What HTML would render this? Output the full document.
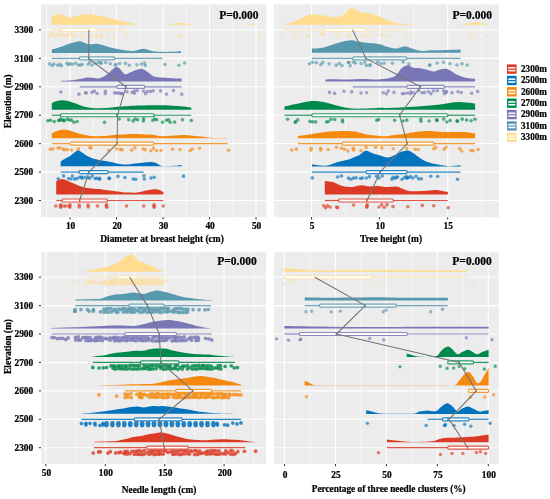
<!DOCTYPE html>
<html><head><meta charset="utf-8"><style>
html,body{margin:0;padding:0;background:#fff;}
body{width:550px;height:499px;overflow:hidden;font-family:"Liberation Serif",serif;}
svg{display:block;will-change:transform;filter:blur(0.3px);}
text{stroke:#000;stroke-width:0.22px;}
</style></head><body>
<svg width="550" height="499" viewBox="0 0 550 499">
<rect width="550" height="499" fill="#FFFFFF"/>
<rect x="41.00" y="4.40" width="225.30" height="212.80" fill="#ECECEC"/>
<line x1="46.75" y1="4.40" x2="46.75" y2="217.20" stroke="#FFFFFF" stroke-width="0.55"/>
<line x1="93.25" y1="4.40" x2="93.25" y2="217.20" stroke="#FFFFFF" stroke-width="0.55"/>
<line x1="139.75" y1="4.40" x2="139.75" y2="217.20" stroke="#FFFFFF" stroke-width="0.55"/>
<line x1="186.25" y1="4.40" x2="186.25" y2="217.20" stroke="#FFFFFF" stroke-width="0.55"/>
<line x1="232.75" y1="4.40" x2="232.75" y2="217.20" stroke="#FFFFFF" stroke-width="0.55"/>
<line x1="70.00" y1="4.40" x2="70.00" y2="217.20" stroke="#FFFFFF" stroke-width="1.1"/>
<line x1="116.50" y1="4.40" x2="116.50" y2="217.20" stroke="#FFFFFF" stroke-width="1.1"/>
<line x1="163.00" y1="4.40" x2="163.00" y2="217.20" stroke="#FFFFFF" stroke-width="1.1"/>
<line x1="209.50" y1="4.40" x2="209.50" y2="217.20" stroke="#FFFFFF" stroke-width="1.1"/>
<line x1="256.00" y1="4.40" x2="256.00" y2="217.20" stroke="#FFFFFF" stroke-width="1.1"/>
<line x1="41.00" y1="200.50" x2="266.30" y2="200.50" stroke="#FFFFFF" stroke-width="1.1"/>
<line x1="41.00" y1="172.08" x2="266.30" y2="172.08" stroke="#FFFFFF" stroke-width="1.1"/>
<line x1="41.00" y1="143.66" x2="266.30" y2="143.66" stroke="#FFFFFF" stroke-width="1.1"/>
<line x1="41.00" y1="115.24" x2="266.30" y2="115.24" stroke="#FFFFFF" stroke-width="1.1"/>
<line x1="41.00" y1="86.82" x2="266.30" y2="86.82" stroke="#FFFFFF" stroke-width="1.1"/>
<line x1="41.00" y1="58.40" x2="266.30" y2="58.40" stroke="#FFFFFF" stroke-width="1.1"/>
<line x1="41.00" y1="29.98" x2="266.30" y2="29.98" stroke="#FFFFFF" stroke-width="1.1"/>
<path d="M56.20,194.60 L56.20,181.20 C56.67,180.97 57.90,180.17 59.00,179.80 C60.10,179.43 61.47,178.88 62.80,179.00 C64.13,179.12 65.27,179.80 67.00,180.50 C68.73,181.20 70.45,182.07 73.20,183.20 C75.95,184.33 80.37,186.40 83.50,187.30 C86.63,188.20 88.88,188.25 92.00,188.60 C95.12,188.95 98.87,189.03 102.20,189.40 C105.53,189.77 108.55,190.33 112.00,190.80 C115.45,191.27 119.90,191.90 122.90,192.20 C125.90,192.50 127.58,192.57 130.00,192.60 C132.42,192.63 134.90,192.70 137.40,192.40 C139.90,192.10 142.57,191.30 145.00,190.80 C147.43,190.30 150.17,189.65 152.00,189.40 C153.83,189.15 154.67,189.17 156.00,189.30 C157.33,189.43 158.78,189.75 160.00,190.20 C161.22,190.65 162.75,191.70 163.30,192.00 L163.30,194.60 Z" fill="#DC3A24"/>
<path d="M60.70,166.30 L60.70,161.40 C61.42,160.97 63.27,159.83 65.00,158.80 C66.73,157.77 69.43,156.33 71.10,155.20 C72.77,154.07 73.80,152.83 75.00,152.00 C76.20,151.17 77.13,150.12 78.30,150.20 C79.47,150.28 80.43,151.50 82.00,152.50 C83.57,153.50 85.37,155.07 87.70,156.20 C90.03,157.33 92.55,158.40 96.00,159.30 C99.45,160.20 105.07,160.95 108.40,161.60 C111.73,162.25 113.23,162.70 116.00,163.20 C118.77,163.70 121.83,164.55 125.00,164.60 C128.17,164.65 131.83,163.87 135.00,163.50 C138.17,163.13 141.42,162.65 144.00,162.40 C146.58,162.15 148.58,161.93 150.50,162.00 C152.42,162.07 154.08,162.33 155.50,162.80 C156.92,163.27 157.92,164.27 159.00,164.80 C160.08,165.33 160.50,165.78 162.00,166.00 C163.50,166.22 166.00,166.13 168.00,166.10 C170.00,166.07 172.33,165.92 174.00,165.80 C175.67,165.68 176.73,165.52 178.00,165.40 C179.27,165.28 181.00,165.15 181.60,165.10 L181.60,166.30 Z" fill="#0473BD"/>
<path d="M51.80,138.30 L51.80,133.40 C52.67,133.00 55.00,131.63 57.00,131.00 C59.00,130.37 61.30,129.55 63.80,129.60 C66.30,129.65 69.05,130.53 72.00,131.30 C74.95,132.07 77.85,133.38 81.50,134.20 C85.15,135.02 89.48,135.95 93.90,136.20 C98.32,136.45 103.65,135.97 108.00,135.70 C112.35,135.43 115.50,134.88 120.00,134.60 C124.50,134.32 130.33,134.00 135.00,134.00 C139.67,134.00 144.83,134.43 148.00,134.60 C151.17,134.77 151.67,134.73 154.00,135.00 C156.33,135.27 159.00,136.07 162.00,136.20 C165.00,136.33 168.17,136.00 172.00,135.80 C175.83,135.60 181.17,134.97 185.00,135.00 C188.83,135.03 192.17,135.73 195.00,136.00 C197.83,136.27 199.83,136.37 202.00,136.60 C204.17,136.83 206.00,137.18 208.00,137.40 C210.00,137.62 212.00,137.79 214.00,137.90 C216.00,138.01 217.73,138.02 220.00,138.05 C222.27,138.08 226.33,138.09 227.60,138.10 L227.60,138.30 Z" fill="#F5890F"/>
<path d="M51.80,109.80 L51.80,103.30 C52.33,103.02 53.33,102.12 55.00,101.60 C56.67,101.08 59.63,100.32 61.80,100.20 C63.97,100.08 65.77,100.38 68.00,100.90 C70.23,101.42 72.27,102.28 75.20,103.30 C78.13,104.32 81.80,106.17 85.60,107.00 C89.40,107.83 93.93,108.17 98.00,108.30 C102.07,108.43 106.33,108.08 110.00,107.80 C113.67,107.52 115.00,106.98 120.00,106.60 C125.00,106.22 133.33,105.73 140.00,105.50 C146.67,105.27 155.00,105.20 160.00,105.20 C165.00,105.20 166.67,105.32 170.00,105.50 C173.33,105.68 177.33,106.08 180.00,106.30 C182.67,106.52 184.12,106.58 186.00,106.80 C187.88,107.02 190.42,107.47 191.30,107.60 L191.30,109.80 Z" fill="#00894C"/>
<path d="M60.70,81.60 L60.70,81.00 C61.92,80.93 65.23,80.85 68.00,80.60 C70.77,80.35 74.02,80.02 77.30,79.50 C80.58,78.98 85.08,77.78 87.70,77.50 C90.32,77.22 91.28,77.63 93.00,77.80 C94.72,77.97 96.33,78.63 98.00,78.50 C99.67,78.37 101.27,77.87 103.00,77.00 C104.73,76.13 106.82,74.55 108.40,73.30 C109.98,72.05 111.12,70.53 112.50,69.50 C113.88,68.47 115.37,67.10 116.70,67.10 C118.03,67.10 119.12,68.30 120.50,69.50 C121.88,70.70 123.42,73.78 125.00,74.30 C126.58,74.82 128.17,73.32 130.00,72.60 C131.83,71.88 134.07,70.65 136.00,70.00 C137.93,69.35 139.77,68.45 141.60,68.70 C143.43,68.95 144.93,70.22 147.00,71.50 C149.07,72.78 151.45,75.40 154.00,76.40 C156.55,77.40 159.72,77.25 162.30,77.50 C164.88,77.75 167.08,77.73 169.50,77.90 C171.92,78.07 174.78,78.38 176.80,78.50 C178.82,78.62 180.80,78.58 181.60,78.60 L181.60,81.60 Z" fill="#7876B4"/>
<path d="M51.80,53.00 L51.80,49.50 C52.50,49.33 54.30,49.00 56.00,48.50 C57.70,48.00 59.67,47.33 62.00,46.50 C64.33,45.67 67.10,44.38 70.00,43.50 C72.90,42.62 77.07,41.37 79.40,41.20 C81.73,41.03 82.45,41.98 84.00,42.50 C85.55,43.02 87.20,44.05 88.70,44.30 C90.20,44.55 91.62,44.10 93.00,44.00 C94.38,43.90 95.17,43.45 97.00,43.70 C98.83,43.95 101.75,44.88 104.00,45.50 C106.25,46.12 107.83,46.73 110.50,47.40 C113.17,48.07 116.58,48.90 120.00,49.50 C123.42,50.10 128.17,50.88 131.00,51.00 C133.83,51.12 134.90,50.57 137.00,50.20 C139.10,49.83 141.43,48.77 143.60,48.80 C145.77,48.83 147.93,49.93 150.00,50.40 C152.07,50.87 153.50,51.35 156.00,51.60 C158.50,51.85 162.33,51.87 165.00,51.90 C167.67,51.93 170.00,51.87 172.00,51.80 C174.00,51.73 175.50,51.62 177.00,51.50 C178.50,51.38 180.33,51.17 181.00,51.10 L181.00,53.00 Z" fill="#5698AE"/>
<path d="M51.40,24.70 L51.40,18.20 C52.00,17.67 53.63,15.72 55.00,15.00 C56.37,14.28 58.10,13.80 59.60,13.90 C61.10,14.00 62.35,14.98 64.00,15.60 C65.65,16.22 67.67,17.50 69.50,17.60 C71.33,17.70 73.08,16.67 75.00,16.20 C76.92,15.73 78.72,15.13 81.00,14.80 C83.28,14.47 86.03,14.13 88.70,14.20 C91.37,14.27 94.20,14.72 97.00,15.20 C99.80,15.68 102.50,16.38 105.50,17.10 C108.50,17.82 111.75,18.72 115.00,19.50 C118.25,20.28 122.17,21.13 125.00,21.80 C127.83,22.47 129.83,23.02 132.00,23.50 C134.17,23.98 137.00,24.50 138.00,24.70 L138.00,24.70 Z" fill="#FFDC8E"/>
<path d="M168.60,24.70 L168.60,24.70 C169.50,24.52 172.27,23.90 174.00,23.60 C175.73,23.30 177.00,22.93 179.00,22.90 C181.00,22.87 183.55,23.10 186.00,23.40 C188.45,23.70 192.42,24.48 193.70,24.70 L193.70,24.70 Z" fill="#FFDC8E"/>
<path d="M245.00,24.70 L245.00,24.70 C246.00,24.57 249.00,23.90 251.00,23.90 C253.00,23.90 256.00,24.57 257.00,24.70 L257.00,24.70 Z" fill="#FFDC8E"/>
<circle cx="55.87" cy="206.00" r="1.80" fill="#DC3A24" fill-opacity="0.65"/>
<circle cx="60.90" cy="204.73" r="1.80" fill="#DC3A24" fill-opacity="0.65"/>
<circle cx="60.56" cy="206.00" r="1.80" fill="#DC3A24" fill-opacity="0.65"/>
<circle cx="60.71" cy="207.27" r="1.80" fill="#DC3A24" fill-opacity="0.65"/>
<circle cx="63.98" cy="206.00" r="1.80" fill="#DC3A24" fill-opacity="0.65"/>
<circle cx="65.92" cy="206.00" r="1.80" fill="#DC3A24" fill-opacity="0.65"/>
<circle cx="69.99" cy="204.73" r="1.80" fill="#DC3A24" fill-opacity="0.65"/>
<circle cx="69.48" cy="206.00" r="1.80" fill="#DC3A24" fill-opacity="0.65"/>
<circle cx="69.80" cy="207.27" r="1.80" fill="#DC3A24" fill-opacity="0.65"/>
<circle cx="79.22" cy="205.05" r="1.80" fill="#DC3A24" fill-opacity="0.65"/>
<circle cx="79.29" cy="206.95" r="1.80" fill="#DC3A24" fill-opacity="0.65"/>
<circle cx="88.02" cy="205.05" r="1.80" fill="#DC3A24" fill-opacity="0.65"/>
<circle cx="88.30" cy="206.95" r="1.80" fill="#DC3A24" fill-opacity="0.65"/>
<circle cx="97.54" cy="206.00" r="1.80" fill="#DC3A24" fill-opacity="0.65"/>
<circle cx="106.57" cy="204.73" r="1.80" fill="#DC3A24" fill-opacity="0.65"/>
<circle cx="106.32" cy="206.00" r="1.80" fill="#DC3A24" fill-opacity="0.65"/>
<circle cx="106.88" cy="207.27" r="1.80" fill="#DC3A24" fill-opacity="0.65"/>
<circle cx="126.59" cy="206.00" r="1.80" fill="#DC3A24" fill-opacity="0.65"/>
<circle cx="143.78" cy="206.00" r="1.80" fill="#DC3A24" fill-opacity="0.65"/>
<circle cx="154.13" cy="204.73" r="1.80" fill="#DC3A24" fill-opacity="0.65"/>
<circle cx="153.95" cy="206.00" r="1.80" fill="#DC3A24" fill-opacity="0.65"/>
<circle cx="154.23" cy="207.27" r="1.80" fill="#DC3A24" fill-opacity="0.65"/>
<circle cx="163.21" cy="206.00" r="1.80" fill="#DC3A24" fill-opacity="0.65"/>
<circle cx="58.20" cy="178.71" r="1.80" fill="#0473BD" fill-opacity="0.65"/>
<circle cx="63.60" cy="175.90" r="1.80" fill="#0473BD" fill-opacity="0.65"/>
<circle cx="68.60" cy="178.57" r="1.80" fill="#0473BD" fill-opacity="0.65"/>
<circle cx="70.90" cy="178.96" r="1.80" fill="#0473BD" fill-opacity="0.65"/>
<circle cx="72.30" cy="176.03" r="1.80" fill="#0473BD" fill-opacity="0.65"/>
<circle cx="74.50" cy="179.11" r="1.80" fill="#0473BD" fill-opacity="0.65"/>
<circle cx="76.80" cy="178.67" r="1.80" fill="#0473BD" fill-opacity="0.65"/>
<circle cx="79.50" cy="177.23" r="1.80" fill="#0473BD" fill-opacity="0.65"/>
<circle cx="81.40" cy="177.10" r="1.80" fill="#0473BD" fill-opacity="0.65"/>
<circle cx="82.30" cy="178.15" r="1.80" fill="#0473BD" fill-opacity="0.65"/>
<circle cx="85.00" cy="177.20" r="1.80" fill="#0473BD" fill-opacity="0.65"/>
<circle cx="88.20" cy="177.85" r="1.80" fill="#0473BD" fill-opacity="0.65"/>
<circle cx="90.00" cy="177.99" r="1.80" fill="#0473BD" fill-opacity="0.65"/>
<circle cx="92.30" cy="175.87" r="1.80" fill="#0473BD" fill-opacity="0.65"/>
<circle cx="95.00" cy="178.48" r="1.80" fill="#0473BD" fill-opacity="0.65"/>
<circle cx="96.80" cy="178.37" r="1.80" fill="#0473BD" fill-opacity="0.65"/>
<circle cx="99.50" cy="179.18" r="1.80" fill="#0473BD" fill-opacity="0.65"/>
<circle cx="99.50" cy="178.40" r="1.80" fill="#0473BD" fill-opacity="0.65"/>
<circle cx="109.00" cy="178.17" r="1.80" fill="#0473BD" fill-opacity="0.65"/>
<circle cx="109.50" cy="178.48" r="1.80" fill="#0473BD" fill-opacity="0.65"/>
<circle cx="117.90" cy="176.39" r="1.80" fill="#0473BD" fill-opacity="0.65"/>
<circle cx="124.90" cy="177.59" r="1.80" fill="#0473BD" fill-opacity="0.65"/>
<circle cx="133.20" cy="179.08" r="1.80" fill="#0473BD" fill-opacity="0.65"/>
<circle cx="135.70" cy="179.20" r="1.80" fill="#0473BD" fill-opacity="0.65"/>
<circle cx="144.00" cy="175.75" r="1.80" fill="#0473BD" fill-opacity="0.65"/>
<circle cx="144.30" cy="179.02" r="1.80" fill="#0473BD" fill-opacity="0.65"/>
<circle cx="151.00" cy="178.10" r="1.80" fill="#0473BD" fill-opacity="0.65"/>
<circle cx="154.20" cy="177.23" r="1.80" fill="#0473BD" fill-opacity="0.65"/>
<circle cx="183.50" cy="176.17" r="1.80" fill="#0473BD" fill-opacity="0.65"/>
<circle cx="50.40" cy="149.24" r="1.80" fill="#F5890F" fill-opacity="0.65"/>
<circle cx="52.90" cy="148.86" r="1.80" fill="#F5890F" fill-opacity="0.65"/>
<circle cx="58.00" cy="148.10" r="1.80" fill="#F5890F" fill-opacity="0.65"/>
<circle cx="59.90" cy="147.76" r="1.80" fill="#F5890F" fill-opacity="0.65"/>
<circle cx="63.10" cy="149.10" r="1.80" fill="#F5890F" fill-opacity="0.65"/>
<circle cx="64.40" cy="149.64" r="1.80" fill="#F5890F" fill-opacity="0.65"/>
<circle cx="67.50" cy="149.62" r="1.80" fill="#F5890F" fill-opacity="0.65"/>
<circle cx="71.40" cy="149.95" r="1.80" fill="#F5890F" fill-opacity="0.65"/>
<circle cx="78.40" cy="148.91" r="1.80" fill="#F5890F" fill-opacity="0.65"/>
<circle cx="89.80" cy="147.44" r="1.80" fill="#F5890F" fill-opacity="0.65"/>
<circle cx="91.10" cy="148.12" r="1.80" fill="#F5890F" fill-opacity="0.65"/>
<circle cx="108.80" cy="150.26" r="1.80" fill="#F5890F" fill-opacity="0.65"/>
<circle cx="116.50" cy="148.86" r="1.80" fill="#F5890F" fill-opacity="0.65"/>
<circle cx="120.30" cy="149.41" r="1.80" fill="#F5890F" fill-opacity="0.65"/>
<circle cx="122.20" cy="149.83" r="1.80" fill="#F5890F" fill-opacity="0.65"/>
<circle cx="131.70" cy="150.14" r="1.80" fill="#F5890F" fill-opacity="0.65"/>
<circle cx="134.90" cy="147.88" r="1.80" fill="#F5890F" fill-opacity="0.65"/>
<circle cx="143.20" cy="149.03" r="1.80" fill="#F5890F" fill-opacity="0.65"/>
<circle cx="145.10" cy="149.74" r="1.80" fill="#F5890F" fill-opacity="0.65"/>
<circle cx="150.80" cy="150.81" r="1.80" fill="#F5890F" fill-opacity="0.65"/>
<circle cx="153.40" cy="148.33" r="1.80" fill="#F5890F" fill-opacity="0.65"/>
<circle cx="156.50" cy="150.68" r="1.80" fill="#F5890F" fill-opacity="0.65"/>
<circle cx="161.00" cy="150.49" r="1.80" fill="#F5890F" fill-opacity="0.65"/>
<circle cx="172.50" cy="149.25" r="1.80" fill="#F5890F" fill-opacity="0.65"/>
<circle cx="179.90" cy="149.46" r="1.80" fill="#F5890F" fill-opacity="0.65"/>
<circle cx="190.30" cy="150.82" r="1.80" fill="#F5890F" fill-opacity="0.65"/>
<circle cx="192.30" cy="148.93" r="1.80" fill="#F5890F" fill-opacity="0.65"/>
<circle cx="199.60" cy="148.36" r="1.80" fill="#F5890F" fill-opacity="0.65"/>
<circle cx="228.60" cy="150.29" r="1.80" fill="#F5890F" fill-opacity="0.65"/>
<circle cx="47.80" cy="120.73" r="1.80" fill="#00894C" fill-opacity="0.65"/>
<circle cx="50.40" cy="120.21" r="1.80" fill="#00894C" fill-opacity="0.65"/>
<circle cx="54.20" cy="121.58" r="1.80" fill="#00894C" fill-opacity="0.65"/>
<circle cx="58.60" cy="120.54" r="1.80" fill="#00894C" fill-opacity="0.65"/>
<circle cx="59.50" cy="120.56" r="1.80" fill="#00894C" fill-opacity="0.65"/>
<circle cx="60.50" cy="118.94" r="1.80" fill="#00894C" fill-opacity="0.65"/>
<circle cx="62.50" cy="120.11" r="1.80" fill="#00894C" fill-opacity="0.65"/>
<circle cx="63.70" cy="120.65" r="1.80" fill="#00894C" fill-opacity="0.65"/>
<circle cx="64.50" cy="120.56" r="1.80" fill="#00894C" fill-opacity="0.65"/>
<circle cx="67.50" cy="119.17" r="1.80" fill="#00894C" fill-opacity="0.65"/>
<circle cx="69.50" cy="119.96" r="1.80" fill="#00894C" fill-opacity="0.65"/>
<circle cx="71.40" cy="120.13" r="1.80" fill="#00894C" fill-opacity="0.65"/>
<circle cx="73.90" cy="122.27" r="1.80" fill="#00894C" fill-opacity="0.65"/>
<circle cx="77.10" cy="121.57" r="1.80" fill="#00894C" fill-opacity="0.65"/>
<circle cx="104.50" cy="122.25" r="1.80" fill="#00894C" fill-opacity="0.65"/>
<circle cx="119.20" cy="118.97" r="1.80" fill="#00894C" fill-opacity="0.65"/>
<circle cx="128.70" cy="119.71" r="1.80" fill="#00894C" fill-opacity="0.65"/>
<circle cx="133.20" cy="120.88" r="1.80" fill="#00894C" fill-opacity="0.65"/>
<circle cx="135.10" cy="119.07" r="1.80" fill="#00894C" fill-opacity="0.65"/>
<circle cx="137.60" cy="119.71" r="1.80" fill="#00894C" fill-opacity="0.65"/>
<circle cx="143.40" cy="120.97" r="1.80" fill="#00894C" fill-opacity="0.65"/>
<circle cx="143.60" cy="118.84" r="1.80" fill="#00894C" fill-opacity="0.65"/>
<circle cx="152.90" cy="120.33" r="1.80" fill="#00894C" fill-opacity="0.65"/>
<circle cx="154.80" cy="118.96" r="1.80" fill="#00894C" fill-opacity="0.65"/>
<circle cx="156.70" cy="119.75" r="1.80" fill="#00894C" fill-opacity="0.65"/>
<circle cx="162.50" cy="122.24" r="1.80" fill="#00894C" fill-opacity="0.65"/>
<circle cx="166.50" cy="120.31" r="1.80" fill="#00894C" fill-opacity="0.65"/>
<circle cx="168.70" cy="119.86" r="1.80" fill="#00894C" fill-opacity="0.65"/>
<circle cx="170.20" cy="122.30" r="1.80" fill="#00894C" fill-opacity="0.65"/>
<circle cx="174.50" cy="122.09" r="1.80" fill="#00894C" fill-opacity="0.65"/>
<circle cx="182.50" cy="119.81" r="1.80" fill="#00894C" fill-opacity="0.65"/>
<circle cx="191.30" cy="120.46" r="1.80" fill="#00894C" fill-opacity="0.65"/>
<circle cx="60.80" cy="92.02" r="1.80" fill="#7876B4" fill-opacity="0.65"/>
<circle cx="79.00" cy="94.13" r="1.80" fill="#7876B4" fill-opacity="0.65"/>
<circle cx="85.50" cy="92.75" r="1.80" fill="#7876B4" fill-opacity="0.65"/>
<circle cx="86.30" cy="93.05" r="1.80" fill="#7876B4" fill-opacity="0.65"/>
<circle cx="92.10" cy="92.35" r="1.80" fill="#7876B4" fill-opacity="0.65"/>
<circle cx="94.30" cy="91.13" r="1.80" fill="#7876B4" fill-opacity="0.65"/>
<circle cx="97.20" cy="93.57" r="1.80" fill="#7876B4" fill-opacity="0.65"/>
<circle cx="105.20" cy="93.63" r="1.80" fill="#7876B4" fill-opacity="0.65"/>
<circle cx="105.50" cy="91.22" r="1.80" fill="#7876B4" fill-opacity="0.65"/>
<circle cx="114.60" cy="92.89" r="1.80" fill="#7876B4" fill-opacity="0.65"/>
<circle cx="116.80" cy="93.08" r="1.80" fill="#7876B4" fill-opacity="0.65"/>
<circle cx="119.00" cy="93.14" r="1.80" fill="#7876B4" fill-opacity="0.65"/>
<circle cx="121.30" cy="93.49" r="1.80" fill="#7876B4" fill-opacity="0.65"/>
<circle cx="121.90" cy="93.63" r="1.80" fill="#7876B4" fill-opacity="0.65"/>
<circle cx="127.00" cy="91.82" r="1.80" fill="#7876B4" fill-opacity="0.65"/>
<circle cx="132.10" cy="92.34" r="1.80" fill="#7876B4" fill-opacity="0.65"/>
<circle cx="134.30" cy="93.16" r="1.80" fill="#7876B4" fill-opacity="0.65"/>
<circle cx="134.60" cy="90.96" r="1.80" fill="#7876B4" fill-opacity="0.65"/>
<circle cx="137.20" cy="90.52" r="1.80" fill="#7876B4" fill-opacity="0.65"/>
<circle cx="143.50" cy="91.00" r="1.80" fill="#7876B4" fill-opacity="0.65"/>
<circle cx="145.50" cy="93.60" r="1.80" fill="#7876B4" fill-opacity="0.65"/>
<circle cx="147.40" cy="91.65" r="1.80" fill="#7876B4" fill-opacity="0.65"/>
<circle cx="150.50" cy="91.57" r="1.80" fill="#7876B4" fill-opacity="0.65"/>
<circle cx="153.10" cy="90.87" r="1.80" fill="#7876B4" fill-opacity="0.65"/>
<circle cx="160.70" cy="90.88" r="1.80" fill="#7876B4" fill-opacity="0.65"/>
<circle cx="166.50" cy="94.10" r="1.80" fill="#7876B4" fill-opacity="0.65"/>
<circle cx="173.50" cy="90.61" r="1.80" fill="#7876B4" fill-opacity="0.65"/>
<circle cx="181.70" cy="94.16" r="1.80" fill="#7876B4" fill-opacity="0.65"/>
<circle cx="49.50" cy="63.84" r="1.80" fill="#5698AE" fill-opacity="0.65"/>
<circle cx="52.20" cy="65.43" r="1.80" fill="#5698AE" fill-opacity="0.65"/>
<circle cx="53.80" cy="64.04" r="1.80" fill="#5698AE" fill-opacity="0.65"/>
<circle cx="57.60" cy="65.33" r="1.80" fill="#5698AE" fill-opacity="0.65"/>
<circle cx="59.80" cy="64.18" r="1.80" fill="#5698AE" fill-opacity="0.65"/>
<circle cx="61.40" cy="65.78" r="1.80" fill="#5698AE" fill-opacity="0.65"/>
<circle cx="66.90" cy="63.36" r="1.80" fill="#5698AE" fill-opacity="0.65"/>
<circle cx="68.50" cy="64.51" r="1.80" fill="#5698AE" fill-opacity="0.65"/>
<circle cx="70.20" cy="63.86" r="1.80" fill="#5698AE" fill-opacity="0.65"/>
<circle cx="72.40" cy="64.18" r="1.80" fill="#5698AE" fill-opacity="0.65"/>
<circle cx="75.60" cy="63.23" r="1.80" fill="#5698AE" fill-opacity="0.65"/>
<circle cx="78.40" cy="65.07" r="1.80" fill="#5698AE" fill-opacity="0.65"/>
<circle cx="80.50" cy="65.07" r="1.80" fill="#5698AE" fill-opacity="0.65"/>
<circle cx="82.20" cy="64.51" r="1.80" fill="#5698AE" fill-opacity="0.65"/>
<circle cx="88.20" cy="64.20" r="1.80" fill="#5698AE" fill-opacity="0.65"/>
<circle cx="89.80" cy="62.17" r="1.80" fill="#5698AE" fill-opacity="0.65"/>
<circle cx="92.00" cy="64.94" r="1.80" fill="#5698AE" fill-opacity="0.65"/>
<circle cx="95.30" cy="63.29" r="1.80" fill="#5698AE" fill-opacity="0.65"/>
<circle cx="98.50" cy="62.36" r="1.80" fill="#5698AE" fill-opacity="0.65"/>
<circle cx="100.70" cy="62.88" r="1.80" fill="#5698AE" fill-opacity="0.65"/>
<circle cx="101.30" cy="63.12" r="1.80" fill="#5698AE" fill-opacity="0.65"/>
<circle cx="105.70" cy="62.47" r="1.80" fill="#5698AE" fill-opacity="0.65"/>
<circle cx="110.20" cy="63.80" r="1.80" fill="#5698AE" fill-opacity="0.65"/>
<circle cx="115.30" cy="65.32" r="1.80" fill="#5698AE" fill-opacity="0.65"/>
<circle cx="115.90" cy="64.26" r="1.80" fill="#5698AE" fill-opacity="0.65"/>
<circle cx="119.70" cy="63.49" r="1.80" fill="#5698AE" fill-opacity="0.65"/>
<circle cx="125.50" cy="63.35" r="1.80" fill="#5698AE" fill-opacity="0.65"/>
<circle cx="129.30" cy="65.21" r="1.80" fill="#5698AE" fill-opacity="0.65"/>
<circle cx="136.90" cy="64.71" r="1.80" fill="#5698AE" fill-opacity="0.65"/>
<circle cx="141.40" cy="64.06" r="1.80" fill="#5698AE" fill-opacity="0.65"/>
<circle cx="144.50" cy="63.01" r="1.80" fill="#5698AE" fill-opacity="0.65"/>
<circle cx="145.20" cy="65.54" r="1.80" fill="#5698AE" fill-opacity="0.65"/>
<circle cx="164.90" cy="64.53" r="1.80" fill="#5698AE" fill-opacity="0.65"/>
<circle cx="178.90" cy="65.22" r="1.80" fill="#5698AE" fill-opacity="0.65"/>
<circle cx="184.70" cy="63.04" r="1.80" fill="#5698AE" fill-opacity="0.65"/>
<circle cx="49.50" cy="34.90" r="1.80" fill="#FFDC8E" fill-opacity="0.40"/>
<circle cx="51.50" cy="34.45" r="1.80" fill="#FFDC8E" fill-opacity="0.40"/>
<circle cx="53.00" cy="33.63" r="1.80" fill="#FFDC8E" fill-opacity="0.40"/>
<circle cx="55.00" cy="37.12" r="1.80" fill="#FFDC8E" fill-opacity="0.40"/>
<circle cx="57.00" cy="34.81" r="1.80" fill="#FFDC8E" fill-opacity="0.40"/>
<circle cx="59.00" cy="33.58" r="1.80" fill="#FFDC8E" fill-opacity="0.40"/>
<circle cx="61.00" cy="34.38" r="1.80" fill="#FFDC8E" fill-opacity="0.40"/>
<circle cx="63.00" cy="35.55" r="1.80" fill="#FFDC8E" fill-opacity="0.40"/>
<circle cx="65.00" cy="36.48" r="1.80" fill="#FFDC8E" fill-opacity="0.40"/>
<circle cx="67.00" cy="34.75" r="1.80" fill="#FFDC8E" fill-opacity="0.40"/>
<circle cx="69.00" cy="34.15" r="1.80" fill="#FFDC8E" fill-opacity="0.40"/>
<circle cx="71.00" cy="33.85" r="1.80" fill="#FFDC8E" fill-opacity="0.40"/>
<circle cx="73.00" cy="36.90" r="1.80" fill="#FFDC8E" fill-opacity="0.40"/>
<circle cx="74.50" cy="34.75" r="1.80" fill="#FFDC8E" fill-opacity="0.40"/>
<circle cx="81.00" cy="34.62" r="1.80" fill="#FFDC8E" fill-opacity="0.40"/>
<circle cx="84.30" cy="37.32" r="1.80" fill="#FFDC8E" fill-opacity="0.40"/>
<circle cx="91.90" cy="36.39" r="1.80" fill="#FFDC8E" fill-opacity="0.40"/>
<circle cx="96.30" cy="36.50" r="1.80" fill="#FFDC8E" fill-opacity="0.40"/>
<circle cx="97.20" cy="36.37" r="1.80" fill="#FFDC8E" fill-opacity="0.40"/>
<circle cx="100.60" cy="33.73" r="1.80" fill="#FFDC8E" fill-opacity="0.40"/>
<circle cx="101.50" cy="36.56" r="1.80" fill="#FFDC8E" fill-opacity="0.40"/>
<circle cx="108.10" cy="37.34" r="1.80" fill="#FFDC8E" fill-opacity="0.40"/>
<circle cx="114.60" cy="37.33" r="1.80" fill="#FFDC8E" fill-opacity="0.40"/>
<circle cx="126.60" cy="33.93" r="1.80" fill="#FFDC8E" fill-opacity="0.40"/>
<circle cx="179.00" cy="35.92" r="1.80" fill="#FFDC8E" fill-opacity="0.40"/>
<circle cx="181.00" cy="37.01" r="1.80" fill="#FFDC8E" fill-opacity="0.40"/>
<circle cx="259.50" cy="36.61" r="1.80" fill="#FFDC8E" fill-opacity="0.40"/>
<g stroke="#DC3A24" stroke-width="1.20" stroke-opacity="0.85">
<line x1="56.30" y1="200.50" x2="62.20" y2="200.50"/>
<line x1="107.40" y1="200.50" x2="163.30" y2="200.50"/>
<rect x="62.20" y="199.00" width="45.20" height="3.00" rx="1.0" fill="#FFFFFF"/>
<line x1="79.60" y1="199.00" x2="79.60" y2="202.00"/>
</g>
<g stroke="#0473BD" stroke-width="1.20" stroke-opacity="0.85">
<line x1="60.70" y1="172.08" x2="79.20" y2="172.08"/>
<line x1="108.00" y1="172.08" x2="143.60" y2="172.08"/>
<rect x="79.20" y="170.58" width="28.80" height="3.00" rx="1.0" fill="#FFFFFF"/>
<line x1="88.90" y1="170.58" x2="88.90" y2="173.58"/>
</g>
<g stroke="#F5890F" stroke-width="1.20" stroke-opacity="0.85">
<line x1="51.80" y1="143.66" x2="70.00" y2="143.66"/>
<line x1="153.70" y1="143.66" x2="227.60" y2="143.66"/>
<rect x="70.00" y="142.16" width="83.70" height="3.00" rx="1.0" fill="#FFFFFF"/>
<line x1="116.70" y1="142.16" x2="116.70" y2="145.16"/>
</g>
<g stroke="#00894C" stroke-width="1.20" stroke-opacity="0.85">
<line x1="51.80" y1="115.24" x2="60.50" y2="115.24"/>
<line x1="154.20" y1="115.24" x2="191.30" y2="115.24"/>
<rect x="60.50" y="113.74" width="93.70" height="3.00" rx="1.0" fill="#FFFFFF"/>
<line x1="116.70" y1="113.74" x2="116.70" y2="116.74"/>
</g>
<g stroke="#7876B4" stroke-width="1.20" stroke-opacity="0.85">
<line x1="79.80" y1="86.82" x2="116.70" y2="86.82"/>
<line x1="144.70" y1="86.82" x2="181.60" y2="86.82"/>
<rect x="116.70" y="85.32" width="28.00" height="3.00" rx="1.0" fill="#FFFFFF"/>
<line x1="126.00" y1="85.32" x2="126.00" y2="88.32"/>
</g>
<g stroke="#5698AE" stroke-width="1.20" stroke-opacity="0.85">
<line x1="51.80" y1="58.40" x2="79.40" y2="58.40"/>
<line x1="114.60" y1="58.40" x2="162.70" y2="58.40"/>
<rect x="79.40" y="56.90" width="35.20" height="3.00" rx="1.0" fill="#FFFFFF"/>
<line x1="88.70" y1="56.90" x2="88.70" y2="59.90"/>
</g>
<g stroke="#FFDC8E" stroke-width="1.20" stroke-opacity="0.60">
<line x1="51.50" y1="29.98" x2="61.40" y2="29.98"/>
<line x1="97.40" y1="29.98" x2="125.20" y2="29.98"/>
<rect x="61.40" y="28.48" width="36.00" height="3.00" rx="1.0" fill="#FFFFFF"/>
<line x1="88.90" y1="28.48" x2="88.90" y2="31.48"/>
</g>
<path d="M88.90,30.00 L88.70,58.40 L126.00,86.80 L117.50,115.20 L117.00,143.70 L88.90,172.10 L79.60,200.50" fill="none" stroke="#767676" stroke-width="1.1"/>
<line x1="70.00" y1="217.20" x2="70.00" y2="219.40" stroke="#333" stroke-width="1"/>
<text x="70.60" y="228.70" text-anchor="middle" font-size="9.4" font-weight="bold" font-family="'Liberation Serif', serif" fill="#000">10</text>
<line x1="116.50" y1="217.20" x2="116.50" y2="219.40" stroke="#333" stroke-width="1"/>
<text x="117.10" y="228.70" text-anchor="middle" font-size="9.4" font-weight="bold" font-family="'Liberation Serif', serif" fill="#000">20</text>
<line x1="163.00" y1="217.20" x2="163.00" y2="219.40" stroke="#333" stroke-width="1"/>
<text x="163.60" y="228.70" text-anchor="middle" font-size="9.4" font-weight="bold" font-family="'Liberation Serif', serif" fill="#000">30</text>
<line x1="209.50" y1="217.20" x2="209.50" y2="219.40" stroke="#333" stroke-width="1"/>
<text x="210.10" y="228.70" text-anchor="middle" font-size="9.4" font-weight="bold" font-family="'Liberation Serif', serif" fill="#000">40</text>
<line x1="256.00" y1="217.20" x2="256.00" y2="219.40" stroke="#333" stroke-width="1"/>
<text x="256.60" y="228.70" text-anchor="middle" font-size="9.4" font-weight="bold" font-family="'Liberation Serif', serif" fill="#000">50</text>
<line x1="38.80" y1="200.50" x2="41.00" y2="200.50" stroke="#333" stroke-width="1"/>
<text x="33.20" y="203.70" text-anchor="end" font-size="9.4" font-weight="bold" font-family="'Liberation Serif', serif" fill="#000">2300</text>
<line x1="38.80" y1="172.08" x2="41.00" y2="172.08" stroke="#333" stroke-width="1"/>
<text x="33.20" y="175.28" text-anchor="end" font-size="9.4" font-weight="bold" font-family="'Liberation Serif', serif" fill="#000">2500</text>
<line x1="38.80" y1="143.66" x2="41.00" y2="143.66" stroke="#333" stroke-width="1"/>
<text x="33.20" y="146.86" text-anchor="end" font-size="9.4" font-weight="bold" font-family="'Liberation Serif', serif" fill="#000">2600</text>
<line x1="38.80" y1="115.24" x2="41.00" y2="115.24" stroke="#333" stroke-width="1"/>
<text x="33.20" y="118.44" text-anchor="end" font-size="9.4" font-weight="bold" font-family="'Liberation Serif', serif" fill="#000">2700</text>
<line x1="38.80" y1="86.82" x2="41.00" y2="86.82" stroke="#333" stroke-width="1"/>
<text x="33.20" y="90.02" text-anchor="end" font-size="9.4" font-weight="bold" font-family="'Liberation Serif', serif" fill="#000">2900</text>
<line x1="38.80" y1="58.40" x2="41.00" y2="58.40" stroke="#333" stroke-width="1"/>
<text x="33.20" y="61.60" text-anchor="end" font-size="9.4" font-weight="bold" font-family="'Liberation Serif', serif" fill="#000">3100</text>
<line x1="38.80" y1="29.98" x2="41.00" y2="29.98" stroke="#333" stroke-width="1"/>
<text x="33.20" y="33.18" text-anchor="end" font-size="9.4" font-weight="bold" font-family="'Liberation Serif', serif" fill="#000">3300</text>
<text x="162.00" y="242.30" text-anchor="middle" font-size="10.20" font-weight="bold" font-family="'Liberation Serif', serif" fill="#000" textLength="123.6" lengthAdjust="spacingAndGlyphs" >Diameter at breast height (cm)</text>
<text x="258.60" y="18.60" text-anchor="end" font-size="11.50" font-weight="bold" font-family="'Liberation Serif', serif" fill="#000" >P=0.000</text>
<rect x="274.20" y="4.40" width="224.80" height="212.80" fill="#ECECEC"/>
<line x1="277.45" y1="4.40" x2="277.45" y2="217.20" stroke="#FFFFFF" stroke-width="0.55"/>
<line x1="345.55" y1="4.40" x2="345.55" y2="217.20" stroke="#FFFFFF" stroke-width="0.55"/>
<line x1="413.65" y1="4.40" x2="413.65" y2="217.20" stroke="#FFFFFF" stroke-width="0.55"/>
<line x1="481.75" y1="4.40" x2="481.75" y2="217.20" stroke="#FFFFFF" stroke-width="0.55"/>
<line x1="311.50" y1="4.40" x2="311.50" y2="217.20" stroke="#FFFFFF" stroke-width="1.1"/>
<line x1="379.60" y1="4.40" x2="379.60" y2="217.20" stroke="#FFFFFF" stroke-width="1.1"/>
<line x1="447.70" y1="4.40" x2="447.70" y2="217.20" stroke="#FFFFFF" stroke-width="1.1"/>
<line x1="274.20" y1="200.50" x2="499.00" y2="200.50" stroke="#FFFFFF" stroke-width="1.1"/>
<line x1="274.20" y1="172.08" x2="499.00" y2="172.08" stroke="#FFFFFF" stroke-width="1.1"/>
<line x1="274.20" y1="143.66" x2="499.00" y2="143.66" stroke="#FFFFFF" stroke-width="1.1"/>
<line x1="274.20" y1="115.24" x2="499.00" y2="115.24" stroke="#FFFFFF" stroke-width="1.1"/>
<line x1="274.20" y1="86.82" x2="499.00" y2="86.82" stroke="#FFFFFF" stroke-width="1.1"/>
<line x1="274.20" y1="58.40" x2="499.00" y2="58.40" stroke="#FFFFFF" stroke-width="1.1"/>
<line x1="274.20" y1="29.98" x2="499.00" y2="29.98" stroke="#FFFFFF" stroke-width="1.1"/>
<path d="M324.80,194.40 L324.80,181.00 C325.50,181.08 327.45,181.27 329.00,181.50 C330.55,181.73 331.87,181.67 334.10,182.40 C336.33,183.13 339.28,185.15 342.40,185.90 C345.52,186.65 349.70,187.00 352.80,186.90 C355.90,186.80 358.25,185.37 361.00,185.30 C363.75,185.23 366.53,186.40 369.30,186.50 C372.07,186.60 374.82,185.82 377.60,185.90 C380.38,185.98 383.77,186.85 386.00,187.00 C388.23,187.15 389.27,186.88 391.00,186.80 C392.73,186.72 394.57,186.22 396.40,186.50 C398.23,186.78 399.93,187.73 402.00,188.50 C404.07,189.27 406.63,190.65 408.80,191.10 C410.97,191.55 412.58,191.20 415.00,191.20 C417.42,191.20 420.80,191.23 423.30,191.10 C425.80,190.97 427.93,190.58 430.00,190.40 C432.07,190.22 433.87,189.93 435.70,190.00 C437.53,190.07 438.98,190.45 441.00,190.80 C443.02,191.15 446.67,191.88 447.80,192.10 L447.80,194.40 Z" fill="#DC3A24"/>
<path d="M311.90,166.60 L311.90,164.60 C312.92,164.70 315.68,165.02 318.00,165.20 C320.32,165.38 323.63,165.82 325.80,165.70 C327.97,165.58 329.27,165.02 331.00,164.50 C332.73,163.98 334.37,163.18 336.20,162.60 C338.03,162.02 339.93,161.52 342.00,161.00 C344.07,160.48 346.60,160.12 348.60,159.50 C350.60,158.88 352.27,158.00 354.00,157.30 C355.73,156.60 357.58,156.10 359.00,155.30 C360.42,154.50 361.52,153.23 362.50,152.50 C363.48,151.77 363.98,151.12 364.90,150.90 C365.82,150.68 366.82,150.85 368.00,151.20 C369.18,151.55 370.73,152.48 372.00,153.00 C373.27,153.52 374.27,153.88 375.60,154.30 C376.93,154.72 377.95,154.97 380.00,155.50 C382.05,156.03 385.40,157.58 387.90,157.50 C390.40,157.42 392.82,155.92 395.00,155.00 C397.18,154.08 398.92,152.75 401.00,152.00 C403.08,151.25 405.50,150.33 407.50,150.50 C409.50,150.67 410.92,151.75 413.00,153.00 C415.08,154.25 417.58,156.48 420.00,158.00 C422.42,159.52 424.53,161.00 427.50,162.10 C430.47,163.20 434.35,163.92 437.80,164.60 C441.25,165.28 445.50,166.00 448.20,166.20 C450.90,166.40 451.93,165.97 454.00,165.80 C456.07,165.63 459.50,165.30 460.60,165.20 L460.60,166.60 Z" fill="#0473BD"/>
<path d="M297.80,138.30 L297.80,136.20 C298.83,136.03 301.75,135.53 304.00,135.20 C306.25,134.87 308.97,134.57 311.30,134.20 C313.63,133.83 315.58,133.35 318.00,133.00 C320.42,132.65 323.30,132.38 325.80,132.10 C328.30,131.82 330.58,131.50 333.00,131.30 C335.42,131.10 337.97,130.95 340.30,130.90 C342.63,130.85 344.58,130.90 347.00,131.00 C349.42,131.10 352.63,131.20 354.80,131.50 C356.97,131.80 358.27,132.35 360.00,132.80 C361.73,133.25 363.03,133.80 365.20,134.20 C367.37,134.60 370.23,134.87 373.00,135.20 C375.77,135.53 379.63,136.03 381.80,136.20 C383.97,136.37 383.63,136.43 386.00,136.20 C388.37,135.97 392.55,135.25 396.00,134.80 C399.45,134.35 403.20,134.00 406.70,133.50 C410.20,133.00 413.53,132.23 417.00,131.80 C420.47,131.37 424.33,130.97 427.50,130.90 C430.67,130.83 432.90,131.20 436.00,131.40 C439.10,131.60 443.10,131.98 446.10,132.10 C449.10,132.22 451.23,132.10 454.00,132.10 C456.77,132.10 460.20,132.02 462.70,132.10 C465.20,132.18 466.93,132.37 469.00,132.60 C471.07,132.83 474.08,133.35 475.10,133.50 L475.10,138.30 Z" fill="#F5890F"/>
<path d="M284.40,109.80 L284.40,106.60 C285.50,106.33 288.58,105.52 291.00,105.00 C293.42,104.48 296.57,104.00 298.90,103.50 C301.23,103.00 302.93,102.42 305.00,102.00 C307.07,101.58 309.13,101.13 311.30,101.00 C313.47,100.87 315.58,100.95 318.00,101.20 C320.42,101.45 323.30,101.95 325.80,102.50 C328.30,103.05 330.58,103.82 333.00,104.50 C335.42,105.18 337.80,106.02 340.30,106.60 C342.80,107.18 345.23,107.65 348.00,108.00 C350.77,108.35 353.23,108.65 356.90,108.70 C360.57,108.75 365.85,108.47 370.00,108.30 C374.15,108.13 379.13,107.77 381.80,107.70 C384.47,107.63 382.97,107.95 386.00,107.90 C389.03,107.85 394.82,107.62 400.00,107.40 C405.18,107.18 412.10,106.90 417.10,106.60 C422.10,106.30 426.20,105.93 430.00,105.60 C433.80,105.27 436.57,105.03 439.90,104.60 C443.23,104.17 446.90,103.42 450.00,103.00 C453.10,102.58 455.83,102.18 458.50,102.10 C461.17,102.02 463.23,102.27 466.00,102.50 C468.77,102.73 473.58,103.33 475.10,103.50 L475.10,109.80 Z" fill="#00894C"/>
<path d="M325.40,81.40 L325.40,79.40 C327.00,79.37 331.73,79.17 335.00,79.20 C338.27,79.23 341.67,79.60 345.00,79.60 C348.33,79.60 351.67,79.30 355.00,79.20 C358.33,79.10 361.67,78.97 365.00,79.00 C368.33,79.03 371.50,79.45 375.00,79.40 C378.50,79.35 382.78,79.17 386.00,78.70 C389.22,78.23 392.30,77.55 394.30,76.60 C396.30,75.65 396.80,74.38 398.00,73.00 C399.20,71.62 400.33,69.47 401.50,68.30 C402.67,67.13 403.78,66.52 405.00,66.00 C406.22,65.48 407.65,64.98 408.80,65.20 C409.95,65.42 410.70,66.83 411.90,67.30 C413.10,67.77 414.62,67.83 416.00,68.00 C417.38,68.17 418.37,68.00 420.20,68.30 C422.03,68.60 424.75,69.28 427.00,69.80 C429.25,70.32 431.53,71.45 433.70,71.40 C435.87,71.35 437.93,69.95 440.00,69.50 C442.07,69.05 444.27,68.45 446.10,68.70 C447.93,68.95 449.27,70.03 451.00,71.00 C452.73,71.97 454.20,73.40 456.50,74.50 C458.80,75.60 462.55,76.95 464.80,77.60 C467.05,78.25 468.28,78.22 470.00,78.40 C471.72,78.58 474.25,78.65 475.10,78.70 L475.10,81.40 Z" fill="#7876B4"/>
<path d="M311.90,52.80 L311.90,48.60 C312.92,48.53 316.03,48.38 318.00,48.20 C319.97,48.02 321.70,47.95 323.70,47.50 C325.70,47.05 327.92,46.18 330.00,45.50 C332.08,44.82 334.03,44.07 336.20,43.40 C338.37,42.73 340.58,42.02 343.00,41.50 C345.42,40.98 348.37,40.35 350.70,40.30 C353.03,40.25 354.93,40.87 357.00,41.20 C359.07,41.53 361.10,42.00 363.10,42.30 C365.10,42.60 366.92,42.82 369.00,43.00 C371.08,43.18 373.60,43.15 375.60,43.40 C377.60,43.65 379.27,43.98 381.00,44.50 C382.73,45.02 383.62,45.82 386.00,46.50 C388.38,47.18 392.97,48.43 395.30,48.60 C397.63,48.77 398.27,47.85 400.00,47.50 C401.73,47.15 403.70,46.33 405.70,46.50 C407.70,46.67 409.42,47.75 412.00,48.50 C414.58,49.25 418.20,50.70 421.20,51.00 C424.20,51.30 426.87,50.43 430.00,50.30 C433.13,50.17 436.67,50.25 440.00,50.20 C443.33,50.15 446.57,50.10 450.00,50.00 C453.43,49.90 458.83,49.67 460.60,49.60 L460.60,52.80 Z" fill="#5698AE"/>
<path d="M283.30,24.70 L283.30,24.20 C284.42,24.00 288.10,23.43 290.00,23.00 C291.90,22.57 293.03,22.27 294.70,21.60 C296.37,20.93 298.28,19.87 300.00,19.00 C301.72,18.13 303.50,17.07 305.00,16.40 C306.50,15.73 307.78,15.33 309.00,15.00 C310.22,14.67 310.80,14.43 312.30,14.40 C313.80,14.37 316.10,14.63 318.00,14.80 C319.90,14.97 321.87,15.12 323.70,15.40 C325.53,15.68 327.27,16.15 329.00,16.50 C330.73,16.85 332.60,17.45 334.10,17.50 C335.60,17.55 336.62,17.15 338.00,16.80 C339.38,16.45 340.90,16.28 342.40,15.40 C343.90,14.52 345.45,12.72 347.00,11.50 C348.55,10.28 350.20,8.38 351.70,8.10 C353.20,7.82 354.45,9.10 356.00,9.80 C357.55,10.50 358.78,11.72 361.00,12.30 C363.22,12.88 366.97,12.85 369.30,13.30 C371.63,13.75 372.92,14.30 375.00,15.00 C377.08,15.70 379.97,16.70 381.80,17.50 C383.63,18.30 384.47,19.13 386.00,19.80 C387.53,20.47 389.27,20.97 391.00,21.50 C392.73,22.03 394.07,22.58 396.40,23.00 C398.73,23.42 401.20,23.72 405.00,24.00 C408.80,24.28 416.83,24.58 419.20,24.70 L419.20,24.70 Z" fill="#FFDC8E"/>
<path d="M459.60,24.70 L459.60,24.70 C460.67,24.55 463.27,24.22 466.00,23.80 C468.73,23.38 473.33,22.30 476.00,22.20 C478.67,22.10 479.90,22.78 482.00,23.20 C484.10,23.62 487.50,24.45 488.60,24.70 L488.60,24.70 Z" fill="#FFDC8E"/>
<circle cx="323.70" cy="205.80" r="1.80" fill="#DC3A24" fill-opacity="0.65"/>
<circle cx="325.60" cy="207.70" r="1.80" fill="#DC3A24" fill-opacity="0.65"/>
<circle cx="327.50" cy="205.90" r="1.80" fill="#DC3A24" fill-opacity="0.65"/>
<circle cx="330.10" cy="207.02" r="1.80" fill="#DC3A24" fill-opacity="0.65"/>
<circle cx="336.50" cy="207.11" r="1.80" fill="#DC3A24" fill-opacity="0.65"/>
<circle cx="337.70" cy="207.65" r="1.80" fill="#DC3A24" fill-opacity="0.65"/>
<circle cx="353.60" cy="205.07" r="1.80" fill="#DC3A24" fill-opacity="0.65"/>
<circle cx="367.18" cy="204.73" r="1.80" fill="#DC3A24" fill-opacity="0.65"/>
<circle cx="367.04" cy="206.00" r="1.80" fill="#DC3A24" fill-opacity="0.65"/>
<circle cx="366.78" cy="207.27" r="1.80" fill="#DC3A24" fill-opacity="0.65"/>
<circle cx="379.10" cy="206.97" r="1.80" fill="#DC3A24" fill-opacity="0.65"/>
<circle cx="381.60" cy="204.81" r="1.80" fill="#DC3A24" fill-opacity="0.65"/>
<circle cx="384.20" cy="207.22" r="1.80" fill="#DC3A24" fill-opacity="0.65"/>
<circle cx="387.00" cy="204.65" r="1.80" fill="#DC3A24" fill-opacity="0.65"/>
<circle cx="393.00" cy="206.60" r="1.80" fill="#DC3A24" fill-opacity="0.65"/>
<circle cx="407.80" cy="206.81" r="1.80" fill="#DC3A24" fill-opacity="0.65"/>
<circle cx="422.30" cy="205.41" r="1.80" fill="#DC3A24" fill-opacity="0.65"/>
<circle cx="433.70" cy="205.71" r="1.80" fill="#DC3A24" fill-opacity="0.65"/>
<circle cx="448.20" cy="207.77" r="1.80" fill="#DC3A24" fill-opacity="0.65"/>
<circle cx="312.30" cy="177.91" r="1.80" fill="#0473BD" fill-opacity="0.65"/>
<circle cx="337.60" cy="177.06" r="1.80" fill="#0473BD" fill-opacity="0.65"/>
<circle cx="341.50" cy="175.88" r="1.80" fill="#0473BD" fill-opacity="0.65"/>
<circle cx="348.50" cy="178.15" r="1.80" fill="#0473BD" fill-opacity="0.65"/>
<circle cx="351.00" cy="179.29" r="1.80" fill="#0473BD" fill-opacity="0.65"/>
<circle cx="353.50" cy="177.93" r="1.80" fill="#0473BD" fill-opacity="0.65"/>
<circle cx="356.10" cy="177.84" r="1.80" fill="#0473BD" fill-opacity="0.65"/>
<circle cx="360.50" cy="178.51" r="1.80" fill="#0473BD" fill-opacity="0.65"/>
<circle cx="362.50" cy="178.07" r="1.80" fill="#0473BD" fill-opacity="0.65"/>
<circle cx="366.30" cy="178.04" r="1.80" fill="#0473BD" fill-opacity="0.65"/>
<circle cx="369.50" cy="176.64" r="1.80" fill="#0473BD" fill-opacity="0.65"/>
<circle cx="376.50" cy="176.26" r="1.80" fill="#0473BD" fill-opacity="0.65"/>
<circle cx="379.00" cy="178.12" r="1.80" fill="#0473BD" fill-opacity="0.65"/>
<circle cx="382.20" cy="176.00" r="1.80" fill="#0473BD" fill-opacity="0.65"/>
<circle cx="391.90" cy="179.21" r="1.80" fill="#0473BD" fill-opacity="0.65"/>
<circle cx="393.00" cy="177.34" r="1.80" fill="#0473BD" fill-opacity="0.65"/>
<circle cx="395.10" cy="178.19" r="1.80" fill="#0473BD" fill-opacity="0.65"/>
<circle cx="396.20" cy="177.02" r="1.80" fill="#0473BD" fill-opacity="0.65"/>
<circle cx="397.60" cy="177.11" r="1.80" fill="#0473BD" fill-opacity="0.65"/>
<circle cx="402.10" cy="179.19" r="1.80" fill="#0473BD" fill-opacity="0.65"/>
<circle cx="404.60" cy="177.47" r="1.80" fill="#0473BD" fill-opacity="0.65"/>
<circle cx="406.50" cy="176.65" r="1.80" fill="#0473BD" fill-opacity="0.65"/>
<circle cx="406.80" cy="178.37" r="1.80" fill="#0473BD" fill-opacity="0.65"/>
<circle cx="408.50" cy="177.43" r="1.80" fill="#0473BD" fill-opacity="0.65"/>
<circle cx="410.40" cy="176.63" r="1.80" fill="#0473BD" fill-opacity="0.65"/>
<circle cx="412.90" cy="178.04" r="1.80" fill="#0473BD" fill-opacity="0.65"/>
<circle cx="416.10" cy="176.20" r="1.80" fill="#0473BD" fill-opacity="0.65"/>
<circle cx="418.60" cy="178.70" r="1.80" fill="#0473BD" fill-opacity="0.65"/>
<circle cx="421.20" cy="178.85" r="1.80" fill="#0473BD" fill-opacity="0.65"/>
<circle cx="430.70" cy="176.30" r="1.80" fill="#0473BD" fill-opacity="0.65"/>
<circle cx="437.70" cy="176.51" r="1.80" fill="#0473BD" fill-opacity="0.65"/>
<circle cx="457.50" cy="179.25" r="1.80" fill="#0473BD" fill-opacity="0.65"/>
<circle cx="291.80" cy="150.02" r="1.80" fill="#F5890F" fill-opacity="0.65"/>
<circle cx="296.30" cy="149.16" r="1.80" fill="#F5890F" fill-opacity="0.65"/>
<circle cx="311.07" cy="148.21" r="1.80" fill="#F5890F" fill-opacity="0.65"/>
<circle cx="310.94" cy="150.11" r="1.80" fill="#F5890F" fill-opacity="0.65"/>
<circle cx="320.73" cy="148.21" r="1.80" fill="#F5890F" fill-opacity="0.65"/>
<circle cx="320.73" cy="150.11" r="1.80" fill="#F5890F" fill-opacity="0.65"/>
<circle cx="328.10" cy="149.53" r="1.80" fill="#F5890F" fill-opacity="0.65"/>
<circle cx="336.40" cy="147.27" r="1.80" fill="#F5890F" fill-opacity="0.65"/>
<circle cx="341.50" cy="148.28" r="1.80" fill="#F5890F" fill-opacity="0.65"/>
<circle cx="344.60" cy="149.21" r="1.80" fill="#F5890F" fill-opacity="0.65"/>
<circle cx="347.80" cy="151.04" r="1.80" fill="#F5890F" fill-opacity="0.65"/>
<circle cx="353.23" cy="148.21" r="1.80" fill="#F5890F" fill-opacity="0.65"/>
<circle cx="353.66" cy="150.11" r="1.80" fill="#F5890F" fill-opacity="0.65"/>
<circle cx="361.00" cy="150.59" r="1.80" fill="#F5890F" fill-opacity="0.65"/>
<circle cx="366.20" cy="147.36" r="1.80" fill="#F5890F" fill-opacity="0.65"/>
<circle cx="375.60" cy="147.32" r="1.80" fill="#F5890F" fill-opacity="0.65"/>
<circle cx="381.80" cy="147.92" r="1.80" fill="#F5890F" fill-opacity="0.65"/>
<circle cx="393.30" cy="148.77" r="1.80" fill="#F5890F" fill-opacity="0.65"/>
<circle cx="406.70" cy="148.65" r="1.80" fill="#F5890F" fill-opacity="0.65"/>
<circle cx="415.00" cy="149.22" r="1.80" fill="#F5890F" fill-opacity="0.65"/>
<circle cx="418.10" cy="149.44" r="1.80" fill="#F5890F" fill-opacity="0.65"/>
<circle cx="433.70" cy="148.77" r="1.80" fill="#F5890F" fill-opacity="0.65"/>
<circle cx="435.70" cy="147.42" r="1.80" fill="#F5890F" fill-opacity="0.65"/>
<circle cx="444.00" cy="149.31" r="1.80" fill="#F5890F" fill-opacity="0.65"/>
<circle cx="446.10" cy="147.31" r="1.80" fill="#F5890F" fill-opacity="0.65"/>
<circle cx="459.60" cy="148.59" r="1.80" fill="#F5890F" fill-opacity="0.65"/>
<circle cx="461.60" cy="151.01" r="1.80" fill="#F5890F" fill-opacity="0.65"/>
<circle cx="471.00" cy="150.48" r="1.80" fill="#F5890F" fill-opacity="0.65"/>
<circle cx="473.00" cy="150.76" r="1.80" fill="#F5890F" fill-opacity="0.65"/>
<circle cx="478.20" cy="149.53" r="1.80" fill="#F5890F" fill-opacity="0.65"/>
<circle cx="287.60" cy="119.27" r="1.80" fill="#00894C" fill-opacity="0.65"/>
<circle cx="295.30" cy="122.51" r="1.80" fill="#00894C" fill-opacity="0.65"/>
<circle cx="295.60" cy="121.47" r="1.80" fill="#00894C" fill-opacity="0.65"/>
<circle cx="297.80" cy="119.92" r="1.80" fill="#00894C" fill-opacity="0.65"/>
<circle cx="309.90" cy="121.38" r="1.80" fill="#00894C" fill-opacity="0.65"/>
<circle cx="312.50" cy="121.84" r="1.80" fill="#00894C" fill-opacity="0.65"/>
<circle cx="315.60" cy="121.89" r="1.80" fill="#00894C" fill-opacity="0.65"/>
<circle cx="326.50" cy="122.07" r="1.80" fill="#00894C" fill-opacity="0.65"/>
<circle cx="328.40" cy="121.53" r="1.80" fill="#00894C" fill-opacity="0.65"/>
<circle cx="330.90" cy="119.22" r="1.80" fill="#00894C" fill-opacity="0.65"/>
<circle cx="334.70" cy="119.47" r="1.80" fill="#00894C" fill-opacity="0.65"/>
<circle cx="342.40" cy="119.95" r="1.80" fill="#00894C" fill-opacity="0.65"/>
<circle cx="342.60" cy="121.79" r="1.80" fill="#00894C" fill-opacity="0.65"/>
<circle cx="376.80" cy="120.31" r="1.80" fill="#00894C" fill-opacity="0.65"/>
<circle cx="378.70" cy="119.45" r="1.80" fill="#00894C" fill-opacity="0.65"/>
<circle cx="394.60" cy="120.37" r="1.80" fill="#00894C" fill-opacity="0.65"/>
<circle cx="402.90" cy="121.04" r="1.80" fill="#00894C" fill-opacity="0.65"/>
<circle cx="406.70" cy="120.17" r="1.80" fill="#00894C" fill-opacity="0.65"/>
<circle cx="420.80" cy="118.95" r="1.80" fill="#00894C" fill-opacity="0.65"/>
<circle cx="421.00" cy="121.32" r="1.80" fill="#00894C" fill-opacity="0.65"/>
<circle cx="429.10" cy="121.02" r="1.80" fill="#00894C" fill-opacity="0.65"/>
<circle cx="436.70" cy="119.89" r="1.80" fill="#00894C" fill-opacity="0.65"/>
<circle cx="437.00" cy="120.45" r="1.80" fill="#00894C" fill-opacity="0.65"/>
<circle cx="443.70" cy="119.11" r="1.80" fill="#00894C" fill-opacity="0.65"/>
<circle cx="446.90" cy="121.98" r="1.80" fill="#00894C" fill-opacity="0.65"/>
<circle cx="450.10" cy="120.47" r="1.80" fill="#00894C" fill-opacity="0.65"/>
<circle cx="457.10" cy="120.91" r="1.80" fill="#00894C" fill-opacity="0.65"/>
<circle cx="457.50" cy="121.26" r="1.80" fill="#00894C" fill-opacity="0.65"/>
<circle cx="462.20" cy="119.16" r="1.80" fill="#00894C" fill-opacity="0.65"/>
<circle cx="466.60" cy="120.06" r="1.80" fill="#00894C" fill-opacity="0.65"/>
<circle cx="471.10" cy="120.69" r="1.80" fill="#00894C" fill-opacity="0.65"/>
<circle cx="474.90" cy="119.23" r="1.80" fill="#00894C" fill-opacity="0.65"/>
<circle cx="329.50" cy="92.41" r="1.80" fill="#7876B4" fill-opacity="0.65"/>
<circle cx="334.50" cy="93.42" r="1.80" fill="#7876B4" fill-opacity="0.65"/>
<circle cx="344.00" cy="91.20" r="1.80" fill="#7876B4" fill-opacity="0.65"/>
<circle cx="351.70" cy="91.83" r="1.80" fill="#7876B4" fill-opacity="0.65"/>
<circle cx="361.00" cy="92.96" r="1.80" fill="#7876B4" fill-opacity="0.65"/>
<circle cx="366.60" cy="92.74" r="1.80" fill="#7876B4" fill-opacity="0.65"/>
<circle cx="383.20" cy="92.71" r="1.80" fill="#7876B4" fill-opacity="0.65"/>
<circle cx="386.40" cy="93.86" r="1.80" fill="#7876B4" fill-opacity="0.65"/>
<circle cx="388.30" cy="91.02" r="1.80" fill="#7876B4" fill-opacity="0.65"/>
<circle cx="394.00" cy="92.39" r="1.80" fill="#7876B4" fill-opacity="0.65"/>
<circle cx="402.30" cy="93.82" r="1.80" fill="#7876B4" fill-opacity="0.65"/>
<circle cx="404.20" cy="93.45" r="1.80" fill="#7876B4" fill-opacity="0.65"/>
<circle cx="407.40" cy="92.94" r="1.80" fill="#7876B4" fill-opacity="0.65"/>
<circle cx="410.50" cy="93.80" r="1.80" fill="#7876B4" fill-opacity="0.65"/>
<circle cx="411.00" cy="92.06" r="1.80" fill="#7876B4" fill-opacity="0.65"/>
<circle cx="413.70" cy="92.76" r="1.80" fill="#7876B4" fill-opacity="0.65"/>
<circle cx="418.80" cy="90.64" r="1.80" fill="#7876B4" fill-opacity="0.65"/>
<circle cx="422.00" cy="92.80" r="1.80" fill="#7876B4" fill-opacity="0.65"/>
<circle cx="424.50" cy="92.60" r="1.80" fill="#7876B4" fill-opacity="0.65"/>
<circle cx="428.40" cy="91.73" r="1.80" fill="#7876B4" fill-opacity="0.65"/>
<circle cx="430.90" cy="93.67" r="1.80" fill="#7876B4" fill-opacity="0.65"/>
<circle cx="433.50" cy="90.85" r="1.80" fill="#7876B4" fill-opacity="0.65"/>
<circle cx="437.30" cy="90.72" r="1.80" fill="#7876B4" fill-opacity="0.65"/>
<circle cx="443.60" cy="90.89" r="1.80" fill="#7876B4" fill-opacity="0.65"/>
<circle cx="444.40" cy="93.80" r="1.80" fill="#7876B4" fill-opacity="0.65"/>
<circle cx="446.20" cy="92.33" r="1.80" fill="#7876B4" fill-opacity="0.65"/>
<circle cx="446.50" cy="91.47" r="1.80" fill="#7876B4" fill-opacity="0.65"/>
<circle cx="452.00" cy="92.74" r="1.80" fill="#7876B4" fill-opacity="0.65"/>
<circle cx="458.00" cy="91.72" r="1.80" fill="#7876B4" fill-opacity="0.65"/>
<circle cx="461.30" cy="92.54" r="1.80" fill="#7876B4" fill-opacity="0.65"/>
<circle cx="471.60" cy="93.27" r="1.80" fill="#7876B4" fill-opacity="0.65"/>
<circle cx="477.60" cy="91.55" r="1.80" fill="#7876B4" fill-opacity="0.65"/>
<circle cx="309.50" cy="63.71" r="1.80" fill="#5698AE" fill-opacity="0.65"/>
<circle cx="312.60" cy="62.29" r="1.80" fill="#5698AE" fill-opacity="0.65"/>
<circle cx="316.50" cy="62.80" r="1.80" fill="#5698AE" fill-opacity="0.65"/>
<circle cx="320.90" cy="64.46" r="1.80" fill="#5698AE" fill-opacity="0.65"/>
<circle cx="322.80" cy="62.37" r="1.80" fill="#5698AE" fill-opacity="0.65"/>
<circle cx="329.20" cy="63.69" r="1.80" fill="#5698AE" fill-opacity="0.65"/>
<circle cx="336.20" cy="65.14" r="1.80" fill="#5698AE" fill-opacity="0.65"/>
<circle cx="339.40" cy="63.52" r="1.80" fill="#5698AE" fill-opacity="0.65"/>
<circle cx="341.90" cy="65.51" r="1.80" fill="#5698AE" fill-opacity="0.65"/>
<circle cx="348.30" cy="62.44" r="1.80" fill="#5698AE" fill-opacity="0.65"/>
<circle cx="349.00" cy="62.46" r="1.80" fill="#5698AE" fill-opacity="0.65"/>
<circle cx="350.20" cy="65.73" r="1.80" fill="#5698AE" fill-opacity="0.65"/>
<circle cx="353.40" cy="62.01" r="1.80" fill="#5698AE" fill-opacity="0.65"/>
<circle cx="355.30" cy="63.01" r="1.80" fill="#5698AE" fill-opacity="0.65"/>
<circle cx="361.00" cy="63.52" r="1.80" fill="#5698AE" fill-opacity="0.65"/>
<circle cx="364.80" cy="62.12" r="1.80" fill="#5698AE" fill-opacity="0.65"/>
<circle cx="366.30" cy="65.38" r="1.80" fill="#5698AE" fill-opacity="0.65"/>
<circle cx="369.90" cy="65.60" r="1.80" fill="#5698AE" fill-opacity="0.65"/>
<circle cx="370.10" cy="64.87" r="1.80" fill="#5698AE" fill-opacity="0.65"/>
<circle cx="377.70" cy="62.16" r="1.80" fill="#5698AE" fill-opacity="0.65"/>
<circle cx="380.90" cy="63.54" r="1.80" fill="#5698AE" fill-opacity="0.65"/>
<circle cx="384.10" cy="63.18" r="1.80" fill="#5698AE" fill-opacity="0.65"/>
<circle cx="392.40" cy="63.21" r="1.80" fill="#5698AE" fill-opacity="0.65"/>
<circle cx="403.20" cy="62.01" r="1.80" fill="#5698AE" fill-opacity="0.65"/>
<circle cx="408.90" cy="64.08" r="1.80" fill="#5698AE" fill-opacity="0.65"/>
<circle cx="429.50" cy="65.25" r="1.80" fill="#5698AE" fill-opacity="0.65"/>
<circle cx="429.90" cy="65.03" r="1.80" fill="#5698AE" fill-opacity="0.65"/>
<circle cx="437.20" cy="63.01" r="1.80" fill="#5698AE" fill-opacity="0.65"/>
<circle cx="443.50" cy="62.28" r="1.80" fill="#5698AE" fill-opacity="0.65"/>
<circle cx="449.90" cy="63.80" r="1.80" fill="#5698AE" fill-opacity="0.65"/>
<circle cx="456.90" cy="65.06" r="1.80" fill="#5698AE" fill-opacity="0.65"/>
<circle cx="462.00" cy="63.70" r="1.80" fill="#5698AE" fill-opacity="0.65"/>
<circle cx="467.10" cy="65.02" r="1.80" fill="#5698AE" fill-opacity="0.65"/>
<circle cx="281.80" cy="35.69" r="1.80" fill="#FFDC8E" fill-opacity="0.40"/>
<circle cx="293.30" cy="33.85" r="1.80" fill="#FFDC8E" fill-opacity="0.40"/>
<circle cx="295.80" cy="37.04" r="1.80" fill="#FFDC8E" fill-opacity="0.40"/>
<circle cx="307.90" cy="34.81" r="1.80" fill="#FFDC8E" fill-opacity="0.40"/>
<circle cx="308.50" cy="35.71" r="1.80" fill="#FFDC8E" fill-opacity="0.40"/>
<circle cx="321.90" cy="33.84" r="1.80" fill="#FFDC8E" fill-opacity="0.40"/>
<circle cx="322.50" cy="34.52" r="1.80" fill="#FFDC8E" fill-opacity="0.40"/>
<circle cx="323.20" cy="35.26" r="1.80" fill="#FFDC8E" fill-opacity="0.40"/>
<circle cx="336.50" cy="34.30" r="1.80" fill="#FFDC8E" fill-opacity="0.40"/>
<circle cx="338.50" cy="35.71" r="1.80" fill="#FFDC8E" fill-opacity="0.40"/>
<circle cx="347.60" cy="36.54" r="1.80" fill="#FFDC8E" fill-opacity="0.40"/>
<circle cx="349.50" cy="34.34" r="1.80" fill="#FFDC8E" fill-opacity="0.40"/>
<circle cx="361.60" cy="36.17" r="1.80" fill="#FFDC8E" fill-opacity="0.40"/>
<circle cx="365.50" cy="34.38" r="1.80" fill="#FFDC8E" fill-opacity="0.40"/>
<circle cx="368.60" cy="34.79" r="1.80" fill="#FFDC8E" fill-opacity="0.40"/>
<circle cx="380.70" cy="34.97" r="1.80" fill="#FFDC8E" fill-opacity="0.40"/>
<circle cx="383.90" cy="34.66" r="1.80" fill="#FFDC8E" fill-opacity="0.40"/>
<circle cx="388.40" cy="35.34" r="1.80" fill="#FFDC8E" fill-opacity="0.40"/>
<circle cx="406.20" cy="35.11" r="1.80" fill="#FFDC8E" fill-opacity="0.40"/>
<circle cx="470.00" cy="36.63" r="1.80" fill="#FFDC8E" fill-opacity="0.40"/>
<circle cx="475.00" cy="34.24" r="1.80" fill="#FFDC8E" fill-opacity="0.40"/>
<circle cx="486.50" cy="36.07" r="1.80" fill="#FFDC8E" fill-opacity="0.40"/>
<g stroke="#DC3A24" stroke-width="1.20" stroke-opacity="0.85">
<line x1="324.80" y1="200.50" x2="338.70" y2="200.50"/>
<line x1="393.30" y1="200.50" x2="447.80" y2="200.50"/>
<rect x="338.70" y="199.00" width="54.60" height="3.00" rx="1.0" fill="#FFFFFF"/>
<line x1="366.70" y1="199.00" x2="366.70" y2="202.00"/>
</g>
<g stroke="#0473BD" stroke-width="1.20" stroke-opacity="0.85">
<line x1="311.90" y1="172.08" x2="366.10" y2="172.08"/>
<line x1="407.10" y1="172.08" x2="460.60" y2="172.08"/>
<rect x="366.10" y="170.58" width="41.00" height="3.00" rx="1.0" fill="#FFFFFF"/>
<line x1="380.00" y1="170.58" x2="380.00" y2="173.58"/>
</g>
<g stroke="#F5890F" stroke-width="1.20" stroke-opacity="0.85">
<line x1="297.80" y1="143.66" x2="342.20" y2="143.66"/>
<line x1="434.10" y1="143.66" x2="475.10" y2="143.66"/>
<rect x="342.20" y="142.16" width="91.90" height="3.00" rx="1.0" fill="#FFFFFF"/>
<line x1="407.00" y1="142.16" x2="407.00" y2="145.16"/>
</g>
<g stroke="#00894C" stroke-width="1.20" stroke-opacity="0.85">
<line x1="284.40" y1="115.24" x2="311.90" y2="115.24"/>
<line x1="447.80" y1="115.24" x2="475.10" y2="115.24"/>
<rect x="311.90" y="113.74" width="135.90" height="3.00" rx="1.0" fill="#FFFFFF"/>
<line x1="399.80" y1="113.74" x2="399.80" y2="116.74"/>
</g>
<g stroke="#7876B4" stroke-width="1.20" stroke-opacity="0.85">
<line x1="352.80" y1="86.82" x2="406.70" y2="86.82"/>
<line x1="444.40" y1="86.82" x2="475.10" y2="86.82"/>
<rect x="406.70" y="85.32" width="37.70" height="3.00" rx="1.0" fill="#FFFFFF"/>
<line x1="420.40" y1="85.32" x2="420.40" y2="88.32"/>
</g>
<g stroke="#5698AE" stroke-width="1.20" stroke-opacity="0.85">
<line x1="311.90" y1="58.40" x2="352.80" y2="58.40"/>
<line x1="406.70" y1="58.40" x2="460.60" y2="58.40"/>
<rect x="352.80" y="56.90" width="53.90" height="3.00" rx="1.0" fill="#FFFFFF"/>
<line x1="365.90" y1="56.90" x2="365.90" y2="59.90"/>
</g>
<g stroke="#FFDC8E" stroke-width="1.20" stroke-opacity="0.60">
<line x1="283.30" y1="29.98" x2="324.80" y2="29.98"/>
<line x1="365.20" y1="29.98" x2="406.70" y2="29.98"/>
<rect x="324.80" y="28.48" width="40.40" height="3.00" rx="1.0" fill="#FFFFFF"/>
<line x1="352.80" y1="28.48" x2="352.80" y2="31.48"/>
</g>
<path d="M352.70,30.00 L365.90,58.40 L420.60,86.80 L399.50,115.20 L407.30,143.70 L380.00,172.10 L367.10,200.50" fill="none" stroke="#767676" stroke-width="1.1"/>
<line x1="311.50" y1="217.20" x2="311.50" y2="219.40" stroke="#333" stroke-width="1"/>
<text x="312.10" y="228.70" text-anchor="middle" font-size="9.4" font-weight="bold" font-family="'Liberation Serif', serif" fill="#000">5</text>
<line x1="379.60" y1="217.20" x2="379.60" y2="219.40" stroke="#333" stroke-width="1"/>
<text x="380.20" y="228.70" text-anchor="middle" font-size="9.4" font-weight="bold" font-family="'Liberation Serif', serif" fill="#000">10</text>
<line x1="447.70" y1="217.20" x2="447.70" y2="219.40" stroke="#333" stroke-width="1"/>
<text x="448.30" y="228.70" text-anchor="middle" font-size="9.4" font-weight="bold" font-family="'Liberation Serif', serif" fill="#000">15</text>
<text x="391.00" y="242.30" text-anchor="middle" font-size="10.20" font-weight="bold" font-family="'Liberation Serif', serif" fill="#000" textLength="62.1" lengthAdjust="spacingAndGlyphs" >Tree height (m)</text>
<text x="491.90" y="18.60" text-anchor="end" font-size="11.50" font-weight="bold" font-family="'Liberation Serif', serif" fill="#000" >P=0.000</text>
<rect x="41.00" y="251.90" width="225.10" height="212.10" fill="#ECECEC"/>
<line x1="75.60" y1="251.90" x2="75.60" y2="464.00" stroke="#FFFFFF" stroke-width="0.55"/>
<line x1="135.00" y1="251.90" x2="135.00" y2="464.00" stroke="#FFFFFF" stroke-width="0.55"/>
<line x1="194.40" y1="251.90" x2="194.40" y2="464.00" stroke="#FFFFFF" stroke-width="0.55"/>
<line x1="253.80" y1="251.90" x2="253.80" y2="464.00" stroke="#FFFFFF" stroke-width="0.55"/>
<line x1="45.90" y1="251.90" x2="45.90" y2="464.00" stroke="#FFFFFF" stroke-width="1.1"/>
<line x1="105.30" y1="251.90" x2="105.30" y2="464.00" stroke="#FFFFFF" stroke-width="1.1"/>
<line x1="164.70" y1="251.90" x2="164.70" y2="464.00" stroke="#FFFFFF" stroke-width="1.1"/>
<line x1="224.10" y1="251.90" x2="224.10" y2="464.00" stroke="#FFFFFF" stroke-width="1.1"/>
<line x1="41.00" y1="447.70" x2="266.10" y2="447.70" stroke="#FFFFFF" stroke-width="1.1"/>
<line x1="41.00" y1="419.28" x2="266.10" y2="419.28" stroke="#FFFFFF" stroke-width="1.1"/>
<line x1="41.00" y1="390.86" x2="266.10" y2="390.86" stroke="#FFFFFF" stroke-width="1.1"/>
<line x1="41.00" y1="362.44" x2="266.10" y2="362.44" stroke="#FFFFFF" stroke-width="1.1"/>
<line x1="41.00" y1="334.02" x2="266.10" y2="334.02" stroke="#FFFFFF" stroke-width="1.1"/>
<line x1="41.00" y1="305.60" x2="266.10" y2="305.60" stroke="#FFFFFF" stroke-width="1.1"/>
<line x1="41.00" y1="277.18" x2="266.10" y2="277.18" stroke="#FFFFFF" stroke-width="1.1"/>
<path d="M93.90,442.30 L93.90,442.00 C95.42,441.93 99.90,441.72 103.00,441.60 C106.10,441.48 109.83,441.50 112.50,441.30 C115.17,441.10 116.92,440.75 119.00,440.40 C121.08,440.05 123.33,439.57 125.00,439.20 C126.67,438.83 127.62,438.55 129.00,438.20 C130.38,437.85 131.97,437.37 133.30,437.10 C134.63,436.83 135.62,436.77 137.00,436.60 C138.38,436.43 140.18,436.37 141.60,436.10 C143.02,435.83 144.13,435.35 145.50,435.00 C146.87,434.65 148.38,434.23 149.80,434.00 C151.22,433.77 152.63,433.80 154.00,433.60 C155.37,433.40 156.62,433.00 158.00,432.80 C159.38,432.60 160.63,432.23 162.30,432.40 C163.97,432.57 165.93,433.25 168.00,433.80 C170.07,434.35 172.53,435.10 174.70,435.70 C176.87,436.30 178.58,436.82 181.00,437.40 C183.42,437.98 186.37,438.77 189.20,439.20 C192.03,439.63 194.88,439.83 198.00,440.00 C201.12,440.17 205.07,440.27 207.90,440.20 C210.73,440.13 212.58,439.77 215.00,439.60 C217.42,439.43 219.90,439.22 222.40,439.20 C224.90,439.18 226.90,439.33 230.00,439.50 C233.10,439.67 238.00,439.90 241.00,440.20 C244.00,440.50 245.57,440.97 248.00,441.30 C250.43,441.63 254.33,442.05 255.60,442.20 L255.60,442.30 Z" fill="#DC3A24"/>
<path d="M81.50,413.80 L81.50,413.60 C82.92,413.50 86.92,413.30 90.00,413.00 C93.08,412.70 96.67,412.22 100.00,411.80 C103.33,411.38 107.00,410.92 110.00,410.50 C113.00,410.08 115.50,409.68 118.00,409.30 C120.50,408.92 122.83,408.58 125.00,408.20 C127.17,407.82 128.93,407.30 131.00,407.00 C133.07,406.70 135.30,406.33 137.40,406.40 C139.50,406.47 141.67,407.37 143.60,407.40 C145.53,407.43 147.43,406.83 149.00,406.60 C150.57,406.37 151.50,406.07 153.00,406.00 C154.50,405.93 156.45,406.22 158.00,406.20 C159.55,406.18 160.63,405.83 162.30,405.90 C163.97,405.97 165.88,406.33 168.00,406.60 C170.12,406.87 172.83,407.20 175.00,407.50 C177.17,407.80 178.83,408.05 181.00,408.40 C183.17,408.75 185.58,409.18 188.00,409.60 C190.42,410.02 193.00,410.48 195.50,410.90 C198.00,411.32 200.25,411.75 203.00,412.10 C205.75,412.45 208.33,412.77 212.00,413.00 C215.67,413.23 219.98,413.38 225.00,413.50 C230.02,413.62 239.25,413.67 242.10,413.70 L242.10,413.80 Z" fill="#0473BD"/>
<path d="M99.00,385.40 L99.00,385.20 C100.83,385.17 106.02,385.08 110.00,385.00 C113.98,384.92 119.07,384.82 122.90,384.70 C126.73,384.58 129.55,384.42 133.00,384.30 C136.45,384.18 140.27,384.08 143.60,384.00 C146.93,383.92 150.27,384.05 153.00,383.80 C155.73,383.55 157.77,382.97 160.00,382.50 C162.23,382.03 164.23,381.45 166.40,381.00 C168.57,380.55 170.57,380.17 173.00,379.80 C175.43,379.43 178.17,379.18 181.00,378.80 C183.83,378.42 186.90,377.95 190.00,377.50 C193.10,377.05 196.93,376.27 199.60,376.10 C202.27,375.93 203.93,376.25 206.00,376.50 C208.07,376.75 210.00,377.22 212.00,377.60 C214.00,377.98 215.92,378.37 218.00,378.80 C220.08,379.23 222.50,379.75 224.50,380.20 C226.50,380.65 228.28,381.08 230.00,381.50 C231.72,381.92 233.47,382.32 234.80,382.70 C236.13,383.08 236.78,383.38 238.00,383.80 C239.22,384.22 241.42,384.97 242.10,385.20 L242.10,385.40 Z" fill="#F5890F"/>
<path d="M92.80,357.00 L92.80,356.60 C93.83,356.47 96.75,356.08 99.00,355.80 C101.25,355.52 104.30,355.23 106.30,354.90 C108.30,354.57 109.27,354.15 111.00,353.80 C112.73,353.45 114.87,353.07 116.70,352.80 C118.53,352.53 120.28,352.37 122.00,352.20 C123.72,352.03 125.50,351.97 127.00,351.80 C128.50,351.63 129.62,351.37 131.00,351.20 C132.38,351.03 133.20,350.87 135.30,350.80 C137.40,350.73 141.18,351.05 143.60,350.80 C146.02,350.55 147.90,349.67 149.80,349.30 C151.70,348.93 153.30,348.73 155.00,348.60 C156.70,348.47 158.10,348.48 160.00,348.50 C161.90,348.52 164.40,348.40 166.40,348.70 C168.40,349.00 169.92,349.78 172.00,350.30 C174.08,350.82 176.90,351.38 178.90,351.80 C180.90,352.22 182.28,352.52 184.00,352.80 C185.72,353.08 186.60,353.25 189.20,353.50 C191.80,353.75 196.80,354.12 199.60,354.30 C202.40,354.48 203.93,354.50 206.00,354.60 C208.07,354.70 209.67,354.70 212.00,354.90 C214.33,355.10 217.33,355.52 220.00,355.80 C222.67,356.08 225.53,356.40 228.00,356.60 C230.47,356.80 233.67,356.93 234.80,357.00 L234.80,357.00 Z" fill="#00894C"/>
<path d="M51.40,328.60 L51.40,328.00 C53.67,327.92 59.98,327.68 65.00,327.50 C70.02,327.32 75.30,327.17 81.50,326.90 C87.70,326.63 95.98,326.13 102.20,325.90 C108.42,325.67 113.62,325.50 118.80,325.50 C123.98,325.50 129.77,325.98 133.30,325.90 C136.83,325.82 137.93,325.35 140.00,325.00 C142.07,324.65 144.03,324.20 145.70,323.80 C147.37,323.40 148.78,322.93 150.00,322.60 C151.22,322.27 151.33,322.10 153.00,321.80 C154.67,321.50 157.42,321.08 160.00,320.80 C162.58,320.52 166.00,320.10 168.50,320.10 C171.00,320.10 172.92,320.52 175.00,320.80 C177.08,321.08 179.00,321.40 181.00,321.80 C183.00,322.20 184.93,322.68 187.00,323.20 C189.07,323.72 191.57,324.40 193.40,324.90 C195.23,325.40 196.28,325.78 198.00,326.20 C199.72,326.62 201.53,327.05 203.70,327.40 C205.87,327.75 209.78,328.15 211.00,328.30 L211.00,328.60 Z" fill="#7876B4"/>
<path d="M75.20,300.40 L75.20,299.60 C77.33,299.53 83.85,299.35 88.00,299.20 C92.15,299.05 97.27,299.03 100.10,298.70 C102.93,298.37 103.27,297.72 105.00,297.20 C106.73,296.68 108.67,296.03 110.50,295.60 C112.33,295.17 113.93,294.85 116.00,294.60 C118.07,294.35 120.90,294.32 122.90,294.10 C124.90,293.88 126.27,293.57 128.00,293.30 C129.73,293.03 131.63,292.52 133.30,292.50 C134.97,292.48 136.28,292.97 138.00,293.20 C139.72,293.43 141.93,293.97 143.60,293.90 C145.27,293.83 146.60,293.20 148.00,292.80 C149.40,292.40 150.83,291.83 152.00,291.50 C153.17,291.17 153.98,290.98 155.00,290.80 C156.02,290.62 156.60,290.23 158.10,290.40 C159.60,290.57 161.92,291.28 164.00,291.80 C166.08,292.32 168.60,292.97 170.60,293.50 C172.60,294.03 174.27,294.48 176.00,295.00 C177.73,295.52 179.00,296.13 181.00,296.60 C183.00,297.07 185.58,297.45 188.00,297.80 C190.42,298.15 193.00,298.40 195.50,298.70 C198.00,299.00 200.25,299.33 203.00,299.60 C205.75,299.87 210.50,300.18 212.00,300.30 L212.00,300.40 Z" fill="#5698AE"/>
<path d="M83.50,271.80 L83.50,271.40 C84.25,271.30 86.27,271.08 88.00,270.80 C89.73,270.52 91.90,270.12 93.90,269.70 C95.90,269.28 97.58,268.85 100.00,268.30 C102.42,267.75 106.23,266.98 108.40,266.40 C110.57,265.82 111.27,265.47 113.00,264.80 C114.73,264.13 117.32,263.32 118.80,262.40 C120.28,261.48 121.20,259.70 121.90,259.30 C122.60,258.90 122.65,260.47 123.00,260.00 C123.35,259.53 123.58,256.92 124.00,256.50 C124.42,256.08 125.00,257.62 125.50,257.50 C126.00,257.38 126.42,256.13 127.00,255.80 C127.58,255.47 128.30,255.78 129.00,255.50 C129.70,255.22 130.62,254.08 131.20,254.10 C131.78,254.12 131.98,255.32 132.50,255.60 C133.02,255.88 133.80,255.40 134.30,255.80 C134.80,256.20 135.15,257.53 135.50,258.00 C135.85,258.47 135.98,258.13 136.40,258.60 C136.82,259.07 137.13,260.13 138.00,260.80 C138.87,261.47 140.68,262.37 141.60,262.60 C142.52,262.83 142.82,261.92 143.50,262.20 C144.18,262.48 144.65,263.80 145.70,264.30 C146.75,264.80 148.75,264.98 149.80,265.20 C150.85,265.42 151.30,265.27 152.00,265.60 C152.70,265.93 152.63,266.40 154.00,267.20 C155.37,268.00 157.95,269.63 160.20,270.40 C162.45,271.17 166.28,271.57 167.50,271.80 L167.50,271.80 Z" fill="#FFDC8E"/>
<circle cx="93.20" cy="452.98" r="1.85" fill="#DC3A24" fill-opacity="0.80"/>
<circle cx="98.60" cy="451.97" r="1.85" fill="#DC3A24" fill-opacity="0.80"/>
<circle cx="100.30" cy="451.87" r="1.85" fill="#DC3A24" fill-opacity="0.80"/>
<circle cx="107.94" cy="453.09" r="1.85" fill="#DC3A24" fill-opacity="0.80"/>
<circle cx="110.31" cy="451.67" r="1.85" fill="#DC3A24" fill-opacity="0.80"/>
<circle cx="115.72" cy="452.92" r="1.85" fill="#DC3A24" fill-opacity="0.80"/>
<circle cx="118.90" cy="452.71" r="1.85" fill="#DC3A24" fill-opacity="0.80"/>
<circle cx="120.73" cy="452.17" r="1.85" fill="#DC3A24" fill-opacity="0.80"/>
<circle cx="124.07" cy="453.50" r="1.85" fill="#DC3A24" fill-opacity="0.80"/>
<circle cx="124.93" cy="451.35" r="1.85" fill="#DC3A24" fill-opacity="0.80"/>
<circle cx="125.15" cy="453.72" r="1.85" fill="#DC3A24" fill-opacity="0.80"/>
<circle cx="127.38" cy="451.34" r="1.85" fill="#DC3A24" fill-opacity="0.80"/>
<circle cx="127.37" cy="454.07" r="1.85" fill="#DC3A24" fill-opacity="0.80"/>
<circle cx="129.95" cy="453.58" r="1.85" fill="#DC3A24" fill-opacity="0.80"/>
<circle cx="131.90" cy="451.33" r="1.85" fill="#DC3A24" fill-opacity="0.80"/>
<circle cx="134.67" cy="451.38" r="1.85" fill="#DC3A24" fill-opacity="0.80"/>
<circle cx="134.24" cy="454.29" r="1.85" fill="#DC3A24" fill-opacity="0.80"/>
<circle cx="137.07" cy="451.05" r="1.85" fill="#DC3A24" fill-opacity="0.80"/>
<circle cx="136.92" cy="454.16" r="1.85" fill="#DC3A24" fill-opacity="0.80"/>
<circle cx="139.19" cy="450.70" r="1.85" fill="#DC3A24" fill-opacity="0.80"/>
<circle cx="138.90" cy="454.24" r="1.85" fill="#DC3A24" fill-opacity="0.80"/>
<circle cx="141.66" cy="451.23" r="1.85" fill="#DC3A24" fill-opacity="0.80"/>
<circle cx="141.30" cy="454.42" r="1.85" fill="#DC3A24" fill-opacity="0.80"/>
<circle cx="144.49" cy="450.51" r="1.85" fill="#DC3A24" fill-opacity="0.80"/>
<circle cx="143.71" cy="454.46" r="1.85" fill="#DC3A24" fill-opacity="0.80"/>
<circle cx="146.22" cy="453.12" r="1.85" fill="#DC3A24" fill-opacity="0.80"/>
<circle cx="148.92" cy="451.15" r="1.85" fill="#DC3A24" fill-opacity="0.80"/>
<circle cx="149.09" cy="454.33" r="1.85" fill="#DC3A24" fill-opacity="0.80"/>
<circle cx="151.31" cy="451.18" r="1.85" fill="#DC3A24" fill-opacity="0.80"/>
<circle cx="151.63" cy="453.63" r="1.85" fill="#DC3A24" fill-opacity="0.80"/>
<circle cx="153.43" cy="451.12" r="1.85" fill="#DC3A24" fill-opacity="0.80"/>
<circle cx="154.24" cy="454.55" r="1.85" fill="#DC3A24" fill-opacity="0.80"/>
<circle cx="156.04" cy="450.69" r="1.85" fill="#DC3A24" fill-opacity="0.80"/>
<circle cx="155.96" cy="454.07" r="1.85" fill="#DC3A24" fill-opacity="0.80"/>
<circle cx="158.47" cy="451.47" r="1.85" fill="#DC3A24" fill-opacity="0.80"/>
<circle cx="158.47" cy="454.23" r="1.85" fill="#DC3A24" fill-opacity="0.80"/>
<circle cx="160.72" cy="451.07" r="1.85" fill="#DC3A24" fill-opacity="0.80"/>
<circle cx="160.70" cy="453.92" r="1.85" fill="#DC3A24" fill-opacity="0.80"/>
<circle cx="163.83" cy="450.56" r="1.85" fill="#DC3A24" fill-opacity="0.80"/>
<circle cx="163.39" cy="454.03" r="1.85" fill="#DC3A24" fill-opacity="0.80"/>
<circle cx="165.78" cy="451.01" r="1.85" fill="#DC3A24" fill-opacity="0.80"/>
<circle cx="168.02" cy="452.33" r="1.85" fill="#DC3A24" fill-opacity="0.80"/>
<circle cx="170.51" cy="451.77" r="1.85" fill="#DC3A24" fill-opacity="0.80"/>
<circle cx="172.84" cy="451.16" r="1.85" fill="#DC3A24" fill-opacity="0.80"/>
<circle cx="172.83" cy="454.28" r="1.85" fill="#DC3A24" fill-opacity="0.80"/>
<circle cx="175.16" cy="451.36" r="1.85" fill="#DC3A24" fill-opacity="0.80"/>
<circle cx="175.01" cy="454.25" r="1.85" fill="#DC3A24" fill-opacity="0.80"/>
<circle cx="177.69" cy="451.36" r="1.85" fill="#DC3A24" fill-opacity="0.80"/>
<circle cx="177.99" cy="454.09" r="1.85" fill="#DC3A24" fill-opacity="0.80"/>
<circle cx="180.24" cy="450.54" r="1.85" fill="#DC3A24" fill-opacity="0.80"/>
<circle cx="180.39" cy="454.55" r="1.85" fill="#DC3A24" fill-opacity="0.80"/>
<circle cx="182.91" cy="450.83" r="1.85" fill="#DC3A24" fill-opacity="0.80"/>
<circle cx="182.11" cy="454.10" r="1.85" fill="#DC3A24" fill-opacity="0.80"/>
<circle cx="185.06" cy="450.86" r="1.85" fill="#DC3A24" fill-opacity="0.80"/>
<circle cx="184.77" cy="453.86" r="1.85" fill="#DC3A24" fill-opacity="0.80"/>
<circle cx="187.01" cy="450.88" r="1.85" fill="#DC3A24" fill-opacity="0.80"/>
<circle cx="187.89" cy="453.73" r="1.85" fill="#DC3A24" fill-opacity="0.80"/>
<circle cx="190.12" cy="450.73" r="1.85" fill="#DC3A24" fill-opacity="0.80"/>
<circle cx="189.58" cy="453.92" r="1.85" fill="#DC3A24" fill-opacity="0.80"/>
<circle cx="192.06" cy="451.28" r="1.85" fill="#DC3A24" fill-opacity="0.80"/>
<circle cx="194.91" cy="450.62" r="1.85" fill="#DC3A24" fill-opacity="0.80"/>
<circle cx="194.63" cy="454.58" r="1.85" fill="#DC3A24" fill-opacity="0.80"/>
<circle cx="196.95" cy="451.22" r="1.85" fill="#DC3A24" fill-opacity="0.80"/>
<circle cx="197.34" cy="454.45" r="1.85" fill="#DC3A24" fill-opacity="0.80"/>
<circle cx="199.69" cy="450.99" r="1.85" fill="#DC3A24" fill-opacity="0.80"/>
<circle cx="199.71" cy="453.74" r="1.85" fill="#DC3A24" fill-opacity="0.80"/>
<circle cx="202.12" cy="453.20" r="1.85" fill="#DC3A24" fill-opacity="0.80"/>
<circle cx="204.51" cy="452.76" r="1.85" fill="#DC3A24" fill-opacity="0.80"/>
<circle cx="206.64" cy="451.39" r="1.85" fill="#DC3A24" fill-opacity="0.80"/>
<circle cx="206.50" cy="454.15" r="1.85" fill="#DC3A24" fill-opacity="0.80"/>
<circle cx="208.55" cy="451.03" r="1.85" fill="#DC3A24" fill-opacity="0.80"/>
<circle cx="209.33" cy="453.85" r="1.85" fill="#DC3A24" fill-opacity="0.80"/>
<circle cx="211.47" cy="450.58" r="1.85" fill="#DC3A24" fill-opacity="0.80"/>
<circle cx="211.17" cy="453.66" r="1.85" fill="#DC3A24" fill-opacity="0.80"/>
<circle cx="214.28" cy="450.54" r="1.85" fill="#DC3A24" fill-opacity="0.80"/>
<circle cx="213.76" cy="453.61" r="1.85" fill="#DC3A24" fill-opacity="0.80"/>
<circle cx="216.42" cy="451.00" r="1.85" fill="#DC3A24" fill-opacity="0.80"/>
<circle cx="216.25" cy="454.51" r="1.85" fill="#DC3A24" fill-opacity="0.80"/>
<circle cx="219.00" cy="450.84" r="1.85" fill="#DC3A24" fill-opacity="0.80"/>
<circle cx="218.50" cy="454.18" r="1.85" fill="#DC3A24" fill-opacity="0.80"/>
<circle cx="220.89" cy="453.66" r="1.85" fill="#DC3A24" fill-opacity="0.80"/>
<circle cx="223.46" cy="453.66" r="1.85" fill="#DC3A24" fill-opacity="0.80"/>
<circle cx="225.75" cy="450.78" r="1.85" fill="#DC3A24" fill-opacity="0.80"/>
<circle cx="225.44" cy="454.00" r="1.85" fill="#DC3A24" fill-opacity="0.80"/>
<circle cx="227.79" cy="452.58" r="1.85" fill="#DC3A24" fill-opacity="0.80"/>
<circle cx="230.64" cy="450.71" r="1.85" fill="#DC3A24" fill-opacity="0.80"/>
<circle cx="230.51" cy="454.10" r="1.85" fill="#DC3A24" fill-opacity="0.80"/>
<circle cx="232.71" cy="451.00" r="1.85" fill="#DC3A24" fill-opacity="0.80"/>
<circle cx="233.17" cy="454.46" r="1.85" fill="#DC3A24" fill-opacity="0.80"/>
<circle cx="235.46" cy="453.54" r="1.85" fill="#DC3A24" fill-opacity="0.80"/>
<circle cx="237.84" cy="451.64" r="1.85" fill="#DC3A24" fill-opacity="0.80"/>
<circle cx="244.41" cy="451.26" r="1.85" fill="#DC3A24" fill-opacity="0.80"/>
<circle cx="255.60" cy="451.18" r="1.85" fill="#DC3A24" fill-opacity="0.80"/>
<rect x="104.20" y="420.98" width="4.6" height="6.4" rx="2.3" fill="#0473BD" fill-opacity="0.88"/>
<rect x="110.14" y="420.98" width="4.6" height="6.4" rx="2.3" fill="#0473BD" fill-opacity="0.88"/>
<rect x="116.08" y="420.98" width="4.6" height="6.4" rx="2.3" fill="#0473BD" fill-opacity="0.88"/>
<rect x="122.02" y="420.98" width="4.6" height="6.4" rx="2.3" fill="#0473BD" fill-opacity="0.88"/>
<rect x="127.96" y="420.98" width="4.6" height="6.4" rx="2.3" fill="#0473BD" fill-opacity="0.88"/>
<rect x="133.90" y="420.98" width="4.6" height="6.4" rx="2.3" fill="#0473BD" fill-opacity="0.88"/>
<rect x="139.84" y="420.98" width="4.6" height="6.4" rx="2.3" fill="#0473BD" fill-opacity="0.88"/>
<rect x="145.78" y="420.98" width="4.6" height="6.4" rx="2.3" fill="#0473BD" fill-opacity="0.88"/>
<rect x="151.72" y="420.98" width="4.6" height="6.4" rx="2.3" fill="#0473BD" fill-opacity="0.88"/>
<rect x="157.66" y="420.98" width="4.6" height="6.4" rx="2.3" fill="#0473BD" fill-opacity="0.88"/>
<rect x="163.60" y="420.98" width="4.6" height="6.4" rx="2.3" fill="#0473BD" fill-opacity="0.88"/>
<rect x="169.54" y="420.98" width="4.6" height="6.4" rx="2.3" fill="#0473BD" fill-opacity="0.88"/>
<rect x="175.48" y="420.98" width="4.6" height="6.4" rx="2.3" fill="#0473BD" fill-opacity="0.88"/>
<rect x="181.42" y="420.98" width="4.6" height="6.4" rx="2.3" fill="#0473BD" fill-opacity="0.88"/>
<rect x="187.36" y="420.98" width="4.6" height="6.4" rx="2.3" fill="#0473BD" fill-opacity="0.88"/>
<rect x="193.30" y="420.98" width="4.6" height="6.4" rx="2.3" fill="#0473BD" fill-opacity="0.88"/>
<rect x="199.24" y="420.98" width="4.6" height="6.4" rx="2.3" fill="#0473BD" fill-opacity="0.88"/>
<rect x="205.18" y="420.98" width="4.6" height="6.4" rx="2.3" fill="#0473BD" fill-opacity="0.88"/>
<rect x="211.12" y="420.98" width="4.6" height="6.4" rx="2.3" fill="#0473BD" fill-opacity="0.88"/>
<circle cx="81.50" cy="423.48" r="1.85" fill="#0473BD" fill-opacity="0.80"/>
<circle cx="85.97" cy="423.35" r="1.85" fill="#0473BD" fill-opacity="0.80"/>
<circle cx="85.91" cy="424.90" r="1.85" fill="#0473BD" fill-opacity="0.80"/>
<circle cx="90.00" cy="423.33" r="1.85" fill="#0473BD" fill-opacity="0.80"/>
<circle cx="94.87" cy="423.35" r="1.85" fill="#0473BD" fill-opacity="0.80"/>
<circle cx="95.11" cy="424.90" r="1.85" fill="#0473BD" fill-opacity="0.80"/>
<circle cx="100.00" cy="425.46" r="1.85" fill="#0473BD" fill-opacity="0.80"/>
<circle cx="102.99" cy="423.35" r="1.85" fill="#0473BD" fill-opacity="0.80"/>
<circle cx="103.27" cy="424.90" r="1.85" fill="#0473BD" fill-opacity="0.80"/>
<circle cx="217.10" cy="423.35" r="1.85" fill="#0473BD" fill-opacity="0.80"/>
<circle cx="217.42" cy="424.90" r="1.85" fill="#0473BD" fill-opacity="0.80"/>
<circle cx="224.50" cy="424.87" r="1.85" fill="#0473BD" fill-opacity="0.80"/>
<circle cx="227.60" cy="425.22" r="1.85" fill="#0473BD" fill-opacity="0.80"/>
<circle cx="232.80" cy="423.09" r="1.85" fill="#0473BD" fill-opacity="0.80"/>
<circle cx="236.90" cy="423.89" r="1.85" fill="#0473BD" fill-opacity="0.80"/>
<circle cx="241.00" cy="422.89" r="1.85" fill="#0473BD" fill-opacity="0.80"/>
<circle cx="99.00" cy="394.77" r="1.85" fill="#F5890F" fill-opacity="0.80"/>
<circle cx="116.70" cy="396.12" r="1.85" fill="#F5890F" fill-opacity="0.80"/>
<circle cx="125.08" cy="394.05" r="1.85" fill="#F5890F" fill-opacity="0.80"/>
<circle cx="125.26" cy="397.48" r="1.85" fill="#F5890F" fill-opacity="0.80"/>
<circle cx="127.84" cy="394.47" r="1.85" fill="#F5890F" fill-opacity="0.80"/>
<circle cx="128.04" cy="396.88" r="1.85" fill="#F5890F" fill-opacity="0.80"/>
<circle cx="130.97" cy="393.77" r="1.85" fill="#F5890F" fill-opacity="0.80"/>
<circle cx="131.27" cy="397.55" r="1.85" fill="#F5890F" fill-opacity="0.80"/>
<circle cx="136.73" cy="394.37" r="1.85" fill="#F5890F" fill-opacity="0.80"/>
<circle cx="140.09" cy="393.71" r="1.85" fill="#F5890F" fill-opacity="0.80"/>
<circle cx="139.56" cy="396.82" r="1.85" fill="#F5890F" fill-opacity="0.80"/>
<circle cx="139.94" cy="393.77" r="1.85" fill="#F5890F" fill-opacity="0.80"/>
<circle cx="140.32" cy="397.52" r="1.85" fill="#F5890F" fill-opacity="0.80"/>
<circle cx="142.80" cy="394.44" r="1.85" fill="#F5890F" fill-opacity="0.80"/>
<circle cx="141.92" cy="397.62" r="1.85" fill="#F5890F" fill-opacity="0.80"/>
<circle cx="144.44" cy="394.34" r="1.85" fill="#F5890F" fill-opacity="0.80"/>
<circle cx="147.00" cy="395.53" r="1.85" fill="#F5890F" fill-opacity="0.80"/>
<circle cx="149.92" cy="394.24" r="1.85" fill="#F5890F" fill-opacity="0.80"/>
<circle cx="149.77" cy="397.13" r="1.85" fill="#F5890F" fill-opacity="0.80"/>
<circle cx="152.11" cy="393.73" r="1.85" fill="#F5890F" fill-opacity="0.80"/>
<circle cx="152.37" cy="397.05" r="1.85" fill="#F5890F" fill-opacity="0.80"/>
<circle cx="154.20" cy="394.52" r="1.85" fill="#F5890F" fill-opacity="0.80"/>
<circle cx="154.64" cy="397.09" r="1.85" fill="#F5890F" fill-opacity="0.80"/>
<circle cx="156.93" cy="393.71" r="1.85" fill="#F5890F" fill-opacity="0.80"/>
<circle cx="156.79" cy="397.35" r="1.85" fill="#F5890F" fill-opacity="0.80"/>
<circle cx="158.88" cy="394.02" r="1.85" fill="#F5890F" fill-opacity="0.80"/>
<circle cx="158.84" cy="397.00" r="1.85" fill="#F5890F" fill-opacity="0.80"/>
<circle cx="161.41" cy="394.23" r="1.85" fill="#F5890F" fill-opacity="0.80"/>
<circle cx="161.89" cy="397.25" r="1.85" fill="#F5890F" fill-opacity="0.80"/>
<circle cx="163.86" cy="394.15" r="1.85" fill="#F5890F" fill-opacity="0.80"/>
<circle cx="163.65" cy="397.71" r="1.85" fill="#F5890F" fill-opacity="0.80"/>
<circle cx="166.74" cy="394.09" r="1.85" fill="#F5890F" fill-opacity="0.80"/>
<circle cx="166.77" cy="397.41" r="1.85" fill="#F5890F" fill-opacity="0.80"/>
<circle cx="168.57" cy="394.05" r="1.85" fill="#F5890F" fill-opacity="0.80"/>
<circle cx="168.65" cy="396.90" r="1.85" fill="#F5890F" fill-opacity="0.80"/>
<circle cx="171.03" cy="394.20" r="1.85" fill="#F5890F" fill-opacity="0.80"/>
<circle cx="173.78" cy="394.30" r="1.85" fill="#F5890F" fill-opacity="0.80"/>
<circle cx="173.34" cy="397.21" r="1.85" fill="#F5890F" fill-opacity="0.80"/>
<circle cx="175.95" cy="394.04" r="1.85" fill="#F5890F" fill-opacity="0.80"/>
<circle cx="175.91" cy="397.75" r="1.85" fill="#F5890F" fill-opacity="0.80"/>
<circle cx="178.28" cy="394.56" r="1.85" fill="#F5890F" fill-opacity="0.80"/>
<circle cx="178.18" cy="397.43" r="1.85" fill="#F5890F" fill-opacity="0.80"/>
<circle cx="180.40" cy="394.27" r="1.85" fill="#F5890F" fill-opacity="0.80"/>
<circle cx="180.74" cy="397.42" r="1.85" fill="#F5890F" fill-opacity="0.80"/>
<circle cx="183.62" cy="393.77" r="1.85" fill="#F5890F" fill-opacity="0.80"/>
<circle cx="183.57" cy="397.73" r="1.85" fill="#F5890F" fill-opacity="0.80"/>
<circle cx="186.02" cy="394.45" r="1.85" fill="#F5890F" fill-opacity="0.80"/>
<circle cx="185.56" cy="397.33" r="1.85" fill="#F5890F" fill-opacity="0.80"/>
<circle cx="188.26" cy="394.39" r="1.85" fill="#F5890F" fill-opacity="0.80"/>
<circle cx="188.49" cy="397.43" r="1.85" fill="#F5890F" fill-opacity="0.80"/>
<circle cx="190.90" cy="397.19" r="1.85" fill="#F5890F" fill-opacity="0.80"/>
<circle cx="192.80" cy="394.63" r="1.85" fill="#F5890F" fill-opacity="0.80"/>
<circle cx="193.25" cy="397.14" r="1.85" fill="#F5890F" fill-opacity="0.80"/>
<circle cx="195.47" cy="394.46" r="1.85" fill="#F5890F" fill-opacity="0.80"/>
<circle cx="194.95" cy="397.06" r="1.85" fill="#F5890F" fill-opacity="0.80"/>
<circle cx="197.24" cy="394.02" r="1.85" fill="#F5890F" fill-opacity="0.80"/>
<circle cx="197.53" cy="397.45" r="1.85" fill="#F5890F" fill-opacity="0.80"/>
<circle cx="200.37" cy="393.95" r="1.85" fill="#F5890F" fill-opacity="0.80"/>
<circle cx="199.51" cy="397.50" r="1.85" fill="#F5890F" fill-opacity="0.80"/>
<circle cx="202.41" cy="394.30" r="1.85" fill="#F5890F" fill-opacity="0.80"/>
<circle cx="201.93" cy="397.22" r="1.85" fill="#F5890F" fill-opacity="0.80"/>
<circle cx="204.96" cy="394.08" r="1.85" fill="#F5890F" fill-opacity="0.80"/>
<circle cx="205.04" cy="397.51" r="1.85" fill="#F5890F" fill-opacity="0.80"/>
<circle cx="207.68" cy="394.53" r="1.85" fill="#F5890F" fill-opacity="0.80"/>
<circle cx="206.94" cy="397.07" r="1.85" fill="#F5890F" fill-opacity="0.80"/>
<circle cx="210.09" cy="393.75" r="1.85" fill="#F5890F" fill-opacity="0.80"/>
<circle cx="209.18" cy="396.82" r="1.85" fill="#F5890F" fill-opacity="0.80"/>
<circle cx="211.70" cy="393.77" r="1.85" fill="#F5890F" fill-opacity="0.80"/>
<circle cx="212.10" cy="397.30" r="1.85" fill="#F5890F" fill-opacity="0.80"/>
<circle cx="214.20" cy="393.77" r="1.85" fill="#F5890F" fill-opacity="0.80"/>
<circle cx="214.23" cy="397.66" r="1.85" fill="#F5890F" fill-opacity="0.80"/>
<circle cx="217.21" cy="393.82" r="1.85" fill="#F5890F" fill-opacity="0.80"/>
<circle cx="216.90" cy="397.29" r="1.85" fill="#F5890F" fill-opacity="0.80"/>
<circle cx="218.93" cy="393.92" r="1.85" fill="#F5890F" fill-opacity="0.80"/>
<circle cx="218.87" cy="397.24" r="1.85" fill="#F5890F" fill-opacity="0.80"/>
<circle cx="221.42" cy="393.88" r="1.85" fill="#F5890F" fill-opacity="0.80"/>
<circle cx="222.01" cy="397.64" r="1.85" fill="#F5890F" fill-opacity="0.80"/>
<circle cx="223.53" cy="394.18" r="1.85" fill="#F5890F" fill-opacity="0.80"/>
<circle cx="223.81" cy="397.41" r="1.85" fill="#F5890F" fill-opacity="0.80"/>
<circle cx="225.99" cy="394.40" r="1.85" fill="#F5890F" fill-opacity="0.80"/>
<circle cx="225.90" cy="397.21" r="1.85" fill="#F5890F" fill-opacity="0.80"/>
<circle cx="229.29" cy="394.11" r="1.85" fill="#F5890F" fill-opacity="0.80"/>
<circle cx="228.39" cy="397.64" r="1.85" fill="#F5890F" fill-opacity="0.80"/>
<circle cx="230.01" cy="395.08" r="1.85" fill="#F5890F" fill-opacity="0.80"/>
<circle cx="233.27" cy="394.65" r="1.85" fill="#F5890F" fill-opacity="0.80"/>
<circle cx="235.68" cy="394.52" r="1.85" fill="#F5890F" fill-opacity="0.80"/>
<circle cx="238.15" cy="394.88" r="1.85" fill="#F5890F" fill-opacity="0.80"/>
<circle cx="240.93" cy="394.78" r="1.85" fill="#F5890F" fill-opacity="0.80"/>
<circle cx="92.80" cy="367.46" r="1.85" fill="#00894C" fill-opacity="0.80"/>
<circle cx="99.00" cy="368.00" r="1.85" fill="#00894C" fill-opacity="0.80"/>
<circle cx="103.20" cy="367.82" r="1.85" fill="#00894C" fill-opacity="0.80"/>
<circle cx="106.50" cy="367.51" r="1.85" fill="#00894C" fill-opacity="0.80"/>
<circle cx="110.93" cy="365.91" r="1.85" fill="#00894C" fill-opacity="0.80"/>
<circle cx="113.31" cy="365.77" r="1.85" fill="#00894C" fill-opacity="0.80"/>
<circle cx="113.17" cy="368.35" r="1.85" fill="#00894C" fill-opacity="0.80"/>
<circle cx="115.16" cy="366.12" r="1.85" fill="#00894C" fill-opacity="0.80"/>
<circle cx="115.27" cy="369.07" r="1.85" fill="#00894C" fill-opacity="0.80"/>
<circle cx="118.06" cy="365.98" r="1.85" fill="#00894C" fill-opacity="0.80"/>
<circle cx="118.01" cy="368.39" r="1.85" fill="#00894C" fill-opacity="0.80"/>
<circle cx="119.74" cy="365.95" r="1.85" fill="#00894C" fill-opacity="0.80"/>
<circle cx="120.17" cy="368.56" r="1.85" fill="#00894C" fill-opacity="0.80"/>
<circle cx="122.30" cy="365.81" r="1.85" fill="#00894C" fill-opacity="0.80"/>
<circle cx="122.12" cy="368.87" r="1.85" fill="#00894C" fill-opacity="0.80"/>
<circle cx="125.26" cy="365.87" r="1.85" fill="#00894C" fill-opacity="0.80"/>
<circle cx="124.52" cy="368.79" r="1.85" fill="#00894C" fill-opacity="0.80"/>
<circle cx="126.83" cy="366.12" r="1.85" fill="#00894C" fill-opacity="0.80"/>
<circle cx="126.81" cy="369.10" r="1.85" fill="#00894C" fill-opacity="0.80"/>
<circle cx="129.87" cy="365.37" r="1.85" fill="#00894C" fill-opacity="0.80"/>
<circle cx="129.67" cy="368.72" r="1.85" fill="#00894C" fill-opacity="0.80"/>
<circle cx="132.54" cy="365.27" r="1.85" fill="#00894C" fill-opacity="0.80"/>
<circle cx="132.38" cy="369.04" r="1.85" fill="#00894C" fill-opacity="0.80"/>
<circle cx="134.85" cy="365.48" r="1.85" fill="#00894C" fill-opacity="0.80"/>
<circle cx="134.65" cy="368.78" r="1.85" fill="#00894C" fill-opacity="0.80"/>
<circle cx="137.07" cy="365.62" r="1.85" fill="#00894C" fill-opacity="0.80"/>
<circle cx="136.97" cy="368.99" r="1.85" fill="#00894C" fill-opacity="0.80"/>
<circle cx="139.35" cy="365.43" r="1.85" fill="#00894C" fill-opacity="0.80"/>
<circle cx="139.07" cy="368.65" r="1.85" fill="#00894C" fill-opacity="0.80"/>
<circle cx="142.03" cy="368.71" r="1.85" fill="#00894C" fill-opacity="0.80"/>
<circle cx="144.04" cy="365.32" r="1.85" fill="#00894C" fill-opacity="0.80"/>
<circle cx="143.99" cy="368.45" r="1.85" fill="#00894C" fill-opacity="0.80"/>
<circle cx="146.73" cy="366.18" r="1.85" fill="#00894C" fill-opacity="0.80"/>
<circle cx="146.03" cy="368.43" r="1.85" fill="#00894C" fill-opacity="0.80"/>
<circle cx="148.84" cy="366.14" r="1.85" fill="#00894C" fill-opacity="0.80"/>
<circle cx="148.82" cy="369.19" r="1.85" fill="#00894C" fill-opacity="0.80"/>
<circle cx="151.07" cy="365.63" r="1.85" fill="#00894C" fill-opacity="0.80"/>
<circle cx="150.84" cy="369.06" r="1.85" fill="#00894C" fill-opacity="0.80"/>
<circle cx="153.23" cy="365.39" r="1.85" fill="#00894C" fill-opacity="0.80"/>
<circle cx="153.29" cy="368.81" r="1.85" fill="#00894C" fill-opacity="0.80"/>
<circle cx="156.47" cy="365.49" r="1.85" fill="#00894C" fill-opacity="0.80"/>
<circle cx="156.14" cy="368.68" r="1.85" fill="#00894C" fill-opacity="0.80"/>
<circle cx="158.93" cy="366.13" r="1.85" fill="#00894C" fill-opacity="0.80"/>
<circle cx="160.92" cy="366.20" r="1.85" fill="#00894C" fill-opacity="0.80"/>
<circle cx="160.74" cy="368.35" r="1.85" fill="#00894C" fill-opacity="0.80"/>
<circle cx="163.36" cy="366.22" r="1.85" fill="#00894C" fill-opacity="0.80"/>
<circle cx="163.62" cy="369.33" r="1.85" fill="#00894C" fill-opacity="0.80"/>
<circle cx="165.79" cy="365.43" r="1.85" fill="#00894C" fill-opacity="0.80"/>
<circle cx="166.18" cy="368.87" r="1.85" fill="#00894C" fill-opacity="0.80"/>
<circle cx="168.29" cy="366.08" r="1.85" fill="#00894C" fill-opacity="0.80"/>
<circle cx="168.35" cy="368.45" r="1.85" fill="#00894C" fill-opacity="0.80"/>
<circle cx="170.27" cy="365.89" r="1.85" fill="#00894C" fill-opacity="0.80"/>
<circle cx="170.71" cy="368.92" r="1.85" fill="#00894C" fill-opacity="0.80"/>
<circle cx="173.34" cy="368.50" r="1.85" fill="#00894C" fill-opacity="0.80"/>
<circle cx="175.26" cy="365.93" r="1.85" fill="#00894C" fill-opacity="0.80"/>
<circle cx="175.21" cy="368.49" r="1.85" fill="#00894C" fill-opacity="0.80"/>
<circle cx="177.36" cy="365.25" r="1.85" fill="#00894C" fill-opacity="0.80"/>
<circle cx="178.00" cy="369.30" r="1.85" fill="#00894C" fill-opacity="0.80"/>
<circle cx="180.32" cy="367.69" r="1.85" fill="#00894C" fill-opacity="0.80"/>
<circle cx="182.54" cy="366.07" r="1.85" fill="#00894C" fill-opacity="0.80"/>
<circle cx="182.34" cy="369.09" r="1.85" fill="#00894C" fill-opacity="0.80"/>
<circle cx="184.67" cy="366.10" r="1.85" fill="#00894C" fill-opacity="0.80"/>
<circle cx="187.54" cy="365.61" r="1.85" fill="#00894C" fill-opacity="0.80"/>
<circle cx="187.36" cy="368.80" r="1.85" fill="#00894C" fill-opacity="0.80"/>
<circle cx="189.76" cy="367.77" r="1.85" fill="#00894C" fill-opacity="0.80"/>
<circle cx="192.17" cy="365.99" r="1.85" fill="#00894C" fill-opacity="0.80"/>
<circle cx="192.36" cy="369.10" r="1.85" fill="#00894C" fill-opacity="0.80"/>
<circle cx="194.43" cy="365.59" r="1.85" fill="#00894C" fill-opacity="0.80"/>
<circle cx="194.88" cy="368.81" r="1.85" fill="#00894C" fill-opacity="0.80"/>
<circle cx="196.84" cy="365.76" r="1.85" fill="#00894C" fill-opacity="0.80"/>
<circle cx="196.93" cy="369.04" r="1.85" fill="#00894C" fill-opacity="0.80"/>
<circle cx="198.98" cy="365.33" r="1.85" fill="#00894C" fill-opacity="0.80"/>
<circle cx="199.71" cy="368.46" r="1.85" fill="#00894C" fill-opacity="0.80"/>
<circle cx="202.18" cy="365.61" r="1.85" fill="#00894C" fill-opacity="0.80"/>
<circle cx="201.56" cy="368.41" r="1.85" fill="#00894C" fill-opacity="0.80"/>
<circle cx="203.65" cy="365.53" r="1.85" fill="#00894C" fill-opacity="0.80"/>
<circle cx="204.53" cy="368.39" r="1.85" fill="#00894C" fill-opacity="0.80"/>
<circle cx="206.38" cy="365.92" r="1.85" fill="#00894C" fill-opacity="0.80"/>
<circle cx="206.65" cy="368.77" r="1.85" fill="#00894C" fill-opacity="0.80"/>
<circle cx="208.75" cy="365.94" r="1.85" fill="#00894C" fill-opacity="0.80"/>
<circle cx="208.50" cy="368.84" r="1.85" fill="#00894C" fill-opacity="0.80"/>
<circle cx="211.24" cy="366.21" r="1.85" fill="#00894C" fill-opacity="0.80"/>
<circle cx="211.31" cy="369.20" r="1.85" fill="#00894C" fill-opacity="0.80"/>
<circle cx="213.85" cy="368.05" r="1.85" fill="#00894C" fill-opacity="0.80"/>
<circle cx="216.13" cy="367.87" r="1.85" fill="#00894C" fill-opacity="0.80"/>
<circle cx="218.21" cy="365.56" r="1.85" fill="#00894C" fill-opacity="0.80"/>
<circle cx="218.40" cy="368.38" r="1.85" fill="#00894C" fill-opacity="0.80"/>
<circle cx="220.46" cy="365.72" r="1.85" fill="#00894C" fill-opacity="0.80"/>
<circle cx="220.88" cy="368.94" r="1.85" fill="#00894C" fill-opacity="0.80"/>
<circle cx="225.12" cy="366.42" r="1.85" fill="#00894C" fill-opacity="0.80"/>
<circle cx="231.29" cy="365.84" r="1.85" fill="#00894C" fill-opacity="0.80"/>
<circle cx="234.18" cy="367.82" r="1.85" fill="#00894C" fill-opacity="0.80"/>
<circle cx="237.44" cy="367.59" r="1.85" fill="#00894C" fill-opacity="0.80"/>
<circle cx="51.94" cy="337.57" r="1.85" fill="#7876B4" fill-opacity="0.80"/>
<circle cx="54.37" cy="337.55" r="1.85" fill="#7876B4" fill-opacity="0.80"/>
<circle cx="57.29" cy="338.57" r="1.85" fill="#7876B4" fill-opacity="0.80"/>
<circle cx="60.19" cy="338.37" r="1.85" fill="#7876B4" fill-opacity="0.80"/>
<circle cx="62.95" cy="338.40" r="1.85" fill="#7876B4" fill-opacity="0.80"/>
<circle cx="65.87" cy="339.61" r="1.85" fill="#7876B4" fill-opacity="0.80"/>
<circle cx="68.14" cy="337.87" r="1.85" fill="#7876B4" fill-opacity="0.80"/>
<circle cx="75.50" cy="337.30" r="1.85" fill="#7876B4" fill-opacity="0.80"/>
<circle cx="75.79" cy="340.00" r="1.85" fill="#7876B4" fill-opacity="0.80"/>
<circle cx="78.29" cy="336.93" r="1.85" fill="#7876B4" fill-opacity="0.80"/>
<circle cx="78.56" cy="340.11" r="1.85" fill="#7876B4" fill-opacity="0.80"/>
<circle cx="80.74" cy="339.99" r="1.85" fill="#7876B4" fill-opacity="0.80"/>
<circle cx="82.79" cy="337.57" r="1.85" fill="#7876B4" fill-opacity="0.80"/>
<circle cx="85.17" cy="337.60" r="1.85" fill="#7876B4" fill-opacity="0.80"/>
<circle cx="85.88" cy="340.48" r="1.85" fill="#7876B4" fill-opacity="0.80"/>
<circle cx="87.54" cy="337.41" r="1.85" fill="#7876B4" fill-opacity="0.80"/>
<circle cx="88.39" cy="340.77" r="1.85" fill="#7876B4" fill-opacity="0.80"/>
<circle cx="90.19" cy="337.70" r="1.85" fill="#7876B4" fill-opacity="0.80"/>
<circle cx="90.49" cy="340.34" r="1.85" fill="#7876B4" fill-opacity="0.80"/>
<circle cx="92.67" cy="340.18" r="1.85" fill="#7876B4" fill-opacity="0.80"/>
<circle cx="95.35" cy="337.77" r="1.85" fill="#7876B4" fill-opacity="0.80"/>
<circle cx="95.27" cy="340.70" r="1.85" fill="#7876B4" fill-opacity="0.80"/>
<circle cx="97.58" cy="337.23" r="1.85" fill="#7876B4" fill-opacity="0.80"/>
<circle cx="97.13" cy="340.33" r="1.85" fill="#7876B4" fill-opacity="0.80"/>
<circle cx="99.57" cy="337.08" r="1.85" fill="#7876B4" fill-opacity="0.80"/>
<circle cx="99.69" cy="340.13" r="1.85" fill="#7876B4" fill-opacity="0.80"/>
<circle cx="101.98" cy="337.68" r="1.85" fill="#7876B4" fill-opacity="0.80"/>
<circle cx="102.45" cy="340.61" r="1.85" fill="#7876B4" fill-opacity="0.80"/>
<circle cx="105.18" cy="338.43" r="1.85" fill="#7876B4" fill-opacity="0.80"/>
<circle cx="107.07" cy="338.83" r="1.85" fill="#7876B4" fill-opacity="0.80"/>
<circle cx="110.00" cy="337.75" r="1.85" fill="#7876B4" fill-opacity="0.80"/>
<circle cx="110.00" cy="340.16" r="1.85" fill="#7876B4" fill-opacity="0.80"/>
<circle cx="112.45" cy="338.24" r="1.85" fill="#7876B4" fill-opacity="0.80"/>
<circle cx="114.07" cy="337.47" r="1.85" fill="#7876B4" fill-opacity="0.80"/>
<circle cx="114.49" cy="340.72" r="1.85" fill="#7876B4" fill-opacity="0.80"/>
<circle cx="116.34" cy="337.37" r="1.85" fill="#7876B4" fill-opacity="0.80"/>
<circle cx="116.91" cy="340.27" r="1.85" fill="#7876B4" fill-opacity="0.80"/>
<circle cx="119.07" cy="337.82" r="1.85" fill="#7876B4" fill-opacity="0.80"/>
<circle cx="118.82" cy="340.80" r="1.85" fill="#7876B4" fill-opacity="0.80"/>
<circle cx="122.03" cy="337.74" r="1.85" fill="#7876B4" fill-opacity="0.80"/>
<circle cx="121.26" cy="340.62" r="1.85" fill="#7876B4" fill-opacity="0.80"/>
<circle cx="124.19" cy="337.04" r="1.85" fill="#7876B4" fill-opacity="0.80"/>
<circle cx="124.36" cy="340.15" r="1.85" fill="#7876B4" fill-opacity="0.80"/>
<circle cx="126.27" cy="337.49" r="1.85" fill="#7876B4" fill-opacity="0.80"/>
<circle cx="126.86" cy="340.68" r="1.85" fill="#7876B4" fill-opacity="0.80"/>
<circle cx="128.65" cy="337.18" r="1.85" fill="#7876B4" fill-opacity="0.80"/>
<circle cx="128.56" cy="339.98" r="1.85" fill="#7876B4" fill-opacity="0.80"/>
<circle cx="131.39" cy="337.79" r="1.85" fill="#7876B4" fill-opacity="0.80"/>
<circle cx="131.38" cy="340.17" r="1.85" fill="#7876B4" fill-opacity="0.80"/>
<circle cx="133.35" cy="337.44" r="1.85" fill="#7876B4" fill-opacity="0.80"/>
<circle cx="133.61" cy="340.08" r="1.85" fill="#7876B4" fill-opacity="0.80"/>
<circle cx="135.79" cy="337.38" r="1.85" fill="#7876B4" fill-opacity="0.80"/>
<circle cx="135.82" cy="340.83" r="1.85" fill="#7876B4" fill-opacity="0.80"/>
<circle cx="138.05" cy="337.66" r="1.85" fill="#7876B4" fill-opacity="0.80"/>
<circle cx="138.75" cy="340.08" r="1.85" fill="#7876B4" fill-opacity="0.80"/>
<circle cx="140.84" cy="337.61" r="1.85" fill="#7876B4" fill-opacity="0.80"/>
<circle cx="141.13" cy="340.07" r="1.85" fill="#7876B4" fill-opacity="0.80"/>
<circle cx="143.12" cy="337.21" r="1.85" fill="#7876B4" fill-opacity="0.80"/>
<circle cx="142.79" cy="340.56" r="1.85" fill="#7876B4" fill-opacity="0.80"/>
<circle cx="145.79" cy="337.64" r="1.85" fill="#7876B4" fill-opacity="0.80"/>
<circle cx="145.36" cy="340.66" r="1.85" fill="#7876B4" fill-opacity="0.80"/>
<circle cx="148.46" cy="337.77" r="1.85" fill="#7876B4" fill-opacity="0.80"/>
<circle cx="147.83" cy="340.23" r="1.85" fill="#7876B4" fill-opacity="0.80"/>
<circle cx="150.22" cy="339.93" r="1.85" fill="#7876B4" fill-opacity="0.80"/>
<circle cx="152.97" cy="337.39" r="1.85" fill="#7876B4" fill-opacity="0.80"/>
<circle cx="152.78" cy="340.89" r="1.85" fill="#7876B4" fill-opacity="0.80"/>
<circle cx="154.97" cy="336.82" r="1.85" fill="#7876B4" fill-opacity="0.80"/>
<circle cx="155.53" cy="340.92" r="1.85" fill="#7876B4" fill-opacity="0.80"/>
<circle cx="157.79" cy="336.88" r="1.85" fill="#7876B4" fill-opacity="0.80"/>
<circle cx="157.70" cy="340.87" r="1.85" fill="#7876B4" fill-opacity="0.80"/>
<circle cx="159.63" cy="337.48" r="1.85" fill="#7876B4" fill-opacity="0.80"/>
<circle cx="159.53" cy="340.84" r="1.85" fill="#7876B4" fill-opacity="0.80"/>
<circle cx="162.26" cy="337.69" r="1.85" fill="#7876B4" fill-opacity="0.80"/>
<circle cx="162.39" cy="340.36" r="1.85" fill="#7876B4" fill-opacity="0.80"/>
<circle cx="164.85" cy="337.68" r="1.85" fill="#7876B4" fill-opacity="0.80"/>
<circle cx="164.54" cy="340.54" r="1.85" fill="#7876B4" fill-opacity="0.80"/>
<circle cx="167.26" cy="337.61" r="1.85" fill="#7876B4" fill-opacity="0.80"/>
<circle cx="166.94" cy="339.98" r="1.85" fill="#7876B4" fill-opacity="0.80"/>
<circle cx="169.49" cy="337.77" r="1.85" fill="#7876B4" fill-opacity="0.80"/>
<circle cx="172.23" cy="336.90" r="1.85" fill="#7876B4" fill-opacity="0.80"/>
<circle cx="172.02" cy="340.84" r="1.85" fill="#7876B4" fill-opacity="0.80"/>
<circle cx="174.82" cy="337.46" r="1.85" fill="#7876B4" fill-opacity="0.80"/>
<circle cx="174.50" cy="340.43" r="1.85" fill="#7876B4" fill-opacity="0.80"/>
<circle cx="176.54" cy="337.56" r="1.85" fill="#7876B4" fill-opacity="0.80"/>
<circle cx="176.36" cy="340.84" r="1.85" fill="#7876B4" fill-opacity="0.80"/>
<circle cx="178.73" cy="336.95" r="1.85" fill="#7876B4" fill-opacity="0.80"/>
<circle cx="179.20" cy="340.53" r="1.85" fill="#7876B4" fill-opacity="0.80"/>
<circle cx="181.49" cy="337.64" r="1.85" fill="#7876B4" fill-opacity="0.80"/>
<circle cx="181.71" cy="340.61" r="1.85" fill="#7876B4" fill-opacity="0.80"/>
<circle cx="184.21" cy="336.89" r="1.85" fill="#7876B4" fill-opacity="0.80"/>
<circle cx="184.15" cy="340.58" r="1.85" fill="#7876B4" fill-opacity="0.80"/>
<circle cx="186.70" cy="340.07" r="1.85" fill="#7876B4" fill-opacity="0.80"/>
<circle cx="189.09" cy="338.34" r="1.85" fill="#7876B4" fill-opacity="0.80"/>
<circle cx="190.90" cy="337.35" r="1.85" fill="#7876B4" fill-opacity="0.80"/>
<circle cx="191.38" cy="340.18" r="1.85" fill="#7876B4" fill-opacity="0.80"/>
<circle cx="193.99" cy="337.46" r="1.85" fill="#7876B4" fill-opacity="0.80"/>
<circle cx="196.46" cy="337.09" r="1.85" fill="#7876B4" fill-opacity="0.80"/>
<circle cx="196.09" cy="340.42" r="1.85" fill="#7876B4" fill-opacity="0.80"/>
<circle cx="198.47" cy="337.73" r="1.85" fill="#7876B4" fill-opacity="0.80"/>
<circle cx="198.31" cy="340.27" r="1.85" fill="#7876B4" fill-opacity="0.80"/>
<circle cx="205.55" cy="338.29" r="1.85" fill="#7876B4" fill-opacity="0.80"/>
<circle cx="208.81" cy="338.89" r="1.85" fill="#7876B4" fill-opacity="0.80"/>
<circle cx="211.73" cy="339.88" r="1.85" fill="#7876B4" fill-opacity="0.80"/>
<circle cx="74.90" cy="311.16" r="1.85" fill="#5698AE" fill-opacity="0.80"/>
<circle cx="75.09" cy="309.67" r="1.85" fill="#5698AE" fill-opacity="0.80"/>
<circle cx="74.80" cy="311.22" r="1.85" fill="#5698AE" fill-opacity="0.80"/>
<circle cx="80.90" cy="309.57" r="1.85" fill="#5698AE" fill-opacity="0.80"/>
<circle cx="87.40" cy="309.54" r="1.85" fill="#5698AE" fill-opacity="0.80"/>
<circle cx="89.10" cy="311.16" r="1.85" fill="#5698AE" fill-opacity="0.80"/>
<circle cx="93.52" cy="309.67" r="1.85" fill="#5698AE" fill-opacity="0.80"/>
<circle cx="93.31" cy="311.22" r="1.85" fill="#5698AE" fill-opacity="0.80"/>
<circle cx="100.50" cy="311.81" r="1.85" fill="#5698AE" fill-opacity="0.80"/>
<circle cx="103.83" cy="309.15" r="1.85" fill="#5698AE" fill-opacity="0.80"/>
<circle cx="103.85" cy="312.04" r="1.85" fill="#5698AE" fill-opacity="0.80"/>
<circle cx="106.49" cy="308.85" r="1.85" fill="#5698AE" fill-opacity="0.80"/>
<circle cx="106.02" cy="311.90" r="1.85" fill="#5698AE" fill-opacity="0.80"/>
<circle cx="108.38" cy="308.53" r="1.85" fill="#5698AE" fill-opacity="0.80"/>
<circle cx="108.58" cy="312.17" r="1.85" fill="#5698AE" fill-opacity="0.80"/>
<circle cx="111.13" cy="308.50" r="1.85" fill="#5698AE" fill-opacity="0.80"/>
<circle cx="111.47" cy="311.81" r="1.85" fill="#5698AE" fill-opacity="0.80"/>
<circle cx="113.47" cy="310.37" r="1.85" fill="#5698AE" fill-opacity="0.80"/>
<circle cx="115.46" cy="309.37" r="1.85" fill="#5698AE" fill-opacity="0.80"/>
<circle cx="116.27" cy="312.23" r="1.85" fill="#5698AE" fill-opacity="0.80"/>
<circle cx="118.70" cy="309.13" r="1.85" fill="#5698AE" fill-opacity="0.80"/>
<circle cx="117.82" cy="312.25" r="1.85" fill="#5698AE" fill-opacity="0.80"/>
<circle cx="120.73" cy="309.46" r="1.85" fill="#5698AE" fill-opacity="0.80"/>
<circle cx="123.33" cy="308.47" r="1.85" fill="#5698AE" fill-opacity="0.80"/>
<circle cx="123.24" cy="311.95" r="1.85" fill="#5698AE" fill-opacity="0.80"/>
<circle cx="125.29" cy="308.89" r="1.85" fill="#5698AE" fill-opacity="0.80"/>
<circle cx="125.76" cy="311.94" r="1.85" fill="#5698AE" fill-opacity="0.80"/>
<circle cx="128.23" cy="309.19" r="1.85" fill="#5698AE" fill-opacity="0.80"/>
<circle cx="127.61" cy="311.65" r="1.85" fill="#5698AE" fill-opacity="0.80"/>
<circle cx="130.14" cy="308.52" r="1.85" fill="#5698AE" fill-opacity="0.80"/>
<circle cx="130.68" cy="311.91" r="1.85" fill="#5698AE" fill-opacity="0.80"/>
<circle cx="132.19" cy="309.12" r="1.85" fill="#5698AE" fill-opacity="0.80"/>
<circle cx="132.16" cy="311.88" r="1.85" fill="#5698AE" fill-opacity="0.80"/>
<circle cx="134.79" cy="309.28" r="1.85" fill="#5698AE" fill-opacity="0.80"/>
<circle cx="134.63" cy="312.13" r="1.85" fill="#5698AE" fill-opacity="0.80"/>
<circle cx="137.52" cy="310.39" r="1.85" fill="#5698AE" fill-opacity="0.80"/>
<circle cx="139.65" cy="308.65" r="1.85" fill="#5698AE" fill-opacity="0.80"/>
<circle cx="139.48" cy="312.04" r="1.85" fill="#5698AE" fill-opacity="0.80"/>
<circle cx="141.95" cy="308.41" r="1.85" fill="#5698AE" fill-opacity="0.80"/>
<circle cx="142.22" cy="312.12" r="1.85" fill="#5698AE" fill-opacity="0.80"/>
<circle cx="144.70" cy="309.36" r="1.85" fill="#5698AE" fill-opacity="0.80"/>
<circle cx="144.19" cy="311.55" r="1.85" fill="#5698AE" fill-opacity="0.80"/>
<circle cx="146.65" cy="308.64" r="1.85" fill="#5698AE" fill-opacity="0.80"/>
<circle cx="147.32" cy="312.33" r="1.85" fill="#5698AE" fill-opacity="0.80"/>
<circle cx="149.15" cy="308.84" r="1.85" fill="#5698AE" fill-opacity="0.80"/>
<circle cx="149.09" cy="312.00" r="1.85" fill="#5698AE" fill-opacity="0.80"/>
<circle cx="151.57" cy="309.14" r="1.85" fill="#5698AE" fill-opacity="0.80"/>
<circle cx="151.79" cy="312.35" r="1.85" fill="#5698AE" fill-opacity="0.80"/>
<circle cx="153.77" cy="309.26" r="1.85" fill="#5698AE" fill-opacity="0.80"/>
<circle cx="153.99" cy="311.85" r="1.85" fill="#5698AE" fill-opacity="0.80"/>
<circle cx="156.43" cy="309.04" r="1.85" fill="#5698AE" fill-opacity="0.80"/>
<circle cx="156.42" cy="311.66" r="1.85" fill="#5698AE" fill-opacity="0.80"/>
<circle cx="159.15" cy="309.38" r="1.85" fill="#5698AE" fill-opacity="0.80"/>
<circle cx="158.95" cy="311.99" r="1.85" fill="#5698AE" fill-opacity="0.80"/>
<circle cx="161.14" cy="308.82" r="1.85" fill="#5698AE" fill-opacity="0.80"/>
<circle cx="160.94" cy="312.48" r="1.85" fill="#5698AE" fill-opacity="0.80"/>
<circle cx="163.48" cy="308.41" r="1.85" fill="#5698AE" fill-opacity="0.80"/>
<circle cx="163.98" cy="311.71" r="1.85" fill="#5698AE" fill-opacity="0.80"/>
<circle cx="166.51" cy="308.43" r="1.85" fill="#5698AE" fill-opacity="0.80"/>
<circle cx="166.67" cy="311.92" r="1.85" fill="#5698AE" fill-opacity="0.80"/>
<circle cx="168.65" cy="308.72" r="1.85" fill="#5698AE" fill-opacity="0.80"/>
<circle cx="168.31" cy="311.56" r="1.85" fill="#5698AE" fill-opacity="0.80"/>
<circle cx="171.02" cy="311.24" r="1.85" fill="#5698AE" fill-opacity="0.80"/>
<circle cx="173.76" cy="309.40" r="1.85" fill="#5698AE" fill-opacity="0.80"/>
<circle cx="173.35" cy="312.08" r="1.85" fill="#5698AE" fill-opacity="0.80"/>
<circle cx="175.90" cy="308.59" r="1.85" fill="#5698AE" fill-opacity="0.80"/>
<circle cx="175.71" cy="311.71" r="1.85" fill="#5698AE" fill-opacity="0.80"/>
<circle cx="178.19" cy="308.63" r="1.85" fill="#5698AE" fill-opacity="0.80"/>
<circle cx="178.43" cy="312.29" r="1.85" fill="#5698AE" fill-opacity="0.80"/>
<circle cx="180.79" cy="308.45" r="1.85" fill="#5698AE" fill-opacity="0.80"/>
<circle cx="180.11" cy="312.42" r="1.85" fill="#5698AE" fill-opacity="0.80"/>
<circle cx="182.94" cy="309.03" r="1.85" fill="#5698AE" fill-opacity="0.80"/>
<circle cx="182.76" cy="312.46" r="1.85" fill="#5698AE" fill-opacity="0.80"/>
<circle cx="185.38" cy="309.33" r="1.85" fill="#5698AE" fill-opacity="0.80"/>
<circle cx="185.71" cy="312.47" r="1.85" fill="#5698AE" fill-opacity="0.80"/>
<circle cx="188.05" cy="309.01" r="1.85" fill="#5698AE" fill-opacity="0.80"/>
<circle cx="187.66" cy="311.89" r="1.85" fill="#5698AE" fill-opacity="0.80"/>
<circle cx="193.13" cy="309.62" r="1.85" fill="#5698AE" fill-opacity="0.80"/>
<circle cx="199.05" cy="309.77" r="1.85" fill="#5698AE" fill-opacity="0.80"/>
<circle cx="204.94" cy="309.83" r="1.85" fill="#5698AE" fill-opacity="0.80"/>
<circle cx="208.21" cy="309.49" r="1.85" fill="#5698AE" fill-opacity="0.80"/>
<circle cx="74.50" cy="282.68" r="1.85" fill="#FFDC8E" fill-opacity="0.50"/>
<circle cx="86.07" cy="283.40" r="1.85" fill="#FFDC8E" fill-opacity="0.50"/>
<circle cx="88.62" cy="281.17" r="1.85" fill="#FFDC8E" fill-opacity="0.50"/>
<circle cx="90.40" cy="281.93" r="1.85" fill="#FFDC8E" fill-opacity="0.50"/>
<circle cx="92.76" cy="282.38" r="1.85" fill="#FFDC8E" fill-opacity="0.50"/>
<circle cx="95.86" cy="282.39" r="1.85" fill="#FFDC8E" fill-opacity="0.50"/>
<circle cx="100.48" cy="282.95" r="1.85" fill="#FFDC8E" fill-opacity="0.50"/>
<circle cx="102.38" cy="283.51" r="1.85" fill="#FFDC8E" fill-opacity="0.50"/>
<circle cx="104.37" cy="281.56" r="1.85" fill="#FFDC8E" fill-opacity="0.50"/>
<circle cx="105.51" cy="280.67" r="1.85" fill="#FFDC8E" fill-opacity="0.50"/>
<circle cx="105.76" cy="283.98" r="1.85" fill="#FFDC8E" fill-opacity="0.50"/>
<circle cx="107.79" cy="283.45" r="1.85" fill="#FFDC8E" fill-opacity="0.50"/>
<circle cx="109.58" cy="280.76" r="1.85" fill="#FFDC8E" fill-opacity="0.50"/>
<circle cx="110.36" cy="283.38" r="1.85" fill="#FFDC8E" fill-opacity="0.50"/>
<circle cx="111.84" cy="280.92" r="1.85" fill="#FFDC8E" fill-opacity="0.50"/>
<circle cx="112.29" cy="284.02" r="1.85" fill="#FFDC8E" fill-opacity="0.50"/>
<circle cx="113.62" cy="280.54" r="1.85" fill="#FFDC8E" fill-opacity="0.50"/>
<circle cx="114.15" cy="283.33" r="1.85" fill="#FFDC8E" fill-opacity="0.50"/>
<circle cx="116.19" cy="280.53" r="1.85" fill="#FFDC8E" fill-opacity="0.50"/>
<circle cx="116.14" cy="283.50" r="1.85" fill="#FFDC8E" fill-opacity="0.50"/>
<circle cx="117.88" cy="282.31" r="1.85" fill="#FFDC8E" fill-opacity="0.50"/>
<circle cx="120.34" cy="282.17" r="1.85" fill="#FFDC8E" fill-opacity="0.50"/>
<circle cx="121.54" cy="280.89" r="1.85" fill="#FFDC8E" fill-opacity="0.50"/>
<circle cx="122.15" cy="283.43" r="1.85" fill="#FFDC8E" fill-opacity="0.50"/>
<circle cx="123.95" cy="280.55" r="1.85" fill="#FFDC8E" fill-opacity="0.50"/>
<circle cx="124.15" cy="283.62" r="1.85" fill="#FFDC8E" fill-opacity="0.50"/>
<circle cx="125.69" cy="280.40" r="1.85" fill="#FFDC8E" fill-opacity="0.50"/>
<circle cx="125.99" cy="283.64" r="1.85" fill="#FFDC8E" fill-opacity="0.50"/>
<circle cx="127.97" cy="282.98" r="1.85" fill="#FFDC8E" fill-opacity="0.50"/>
<circle cx="129.71" cy="280.53" r="1.85" fill="#FFDC8E" fill-opacity="0.50"/>
<circle cx="130.17" cy="283.66" r="1.85" fill="#FFDC8E" fill-opacity="0.50"/>
<circle cx="132.26" cy="282.43" r="1.85" fill="#FFDC8E" fill-opacity="0.50"/>
<circle cx="133.76" cy="280.51" r="1.85" fill="#FFDC8E" fill-opacity="0.50"/>
<circle cx="134.14" cy="283.77" r="1.85" fill="#FFDC8E" fill-opacity="0.50"/>
<circle cx="135.99" cy="280.68" r="1.85" fill="#FFDC8E" fill-opacity="0.50"/>
<circle cx="136.09" cy="283.62" r="1.85" fill="#FFDC8E" fill-opacity="0.50"/>
<circle cx="138.35" cy="280.79" r="1.85" fill="#FFDC8E" fill-opacity="0.50"/>
<circle cx="138.22" cy="283.21" r="1.85" fill="#FFDC8E" fill-opacity="0.50"/>
<circle cx="139.76" cy="280.26" r="1.85" fill="#FFDC8E" fill-opacity="0.50"/>
<circle cx="139.98" cy="283.81" r="1.85" fill="#FFDC8E" fill-opacity="0.50"/>
<circle cx="142.37" cy="280.40" r="1.85" fill="#FFDC8E" fill-opacity="0.50"/>
<circle cx="141.93" cy="283.59" r="1.85" fill="#FFDC8E" fill-opacity="0.50"/>
<circle cx="143.84" cy="280.47" r="1.85" fill="#FFDC8E" fill-opacity="0.50"/>
<circle cx="144.49" cy="283.27" r="1.85" fill="#FFDC8E" fill-opacity="0.50"/>
<circle cx="145.71" cy="280.71" r="1.85" fill="#FFDC8E" fill-opacity="0.50"/>
<circle cx="146.09" cy="283.81" r="1.85" fill="#FFDC8E" fill-opacity="0.50"/>
<circle cx="147.92" cy="280.03" r="1.85" fill="#FFDC8E" fill-opacity="0.50"/>
<circle cx="148.20" cy="283.70" r="1.85" fill="#FFDC8E" fill-opacity="0.50"/>
<circle cx="150.19" cy="280.26" r="1.85" fill="#FFDC8E" fill-opacity="0.50"/>
<circle cx="150.40" cy="283.19" r="1.85" fill="#FFDC8E" fill-opacity="0.50"/>
<circle cx="151.59" cy="280.24" r="1.85" fill="#FFDC8E" fill-opacity="0.50"/>
<circle cx="152.47" cy="283.14" r="1.85" fill="#FFDC8E" fill-opacity="0.50"/>
<circle cx="154.04" cy="280.78" r="1.85" fill="#FFDC8E" fill-opacity="0.50"/>
<circle cx="153.63" cy="283.83" r="1.85" fill="#FFDC8E" fill-opacity="0.50"/>
<circle cx="155.58" cy="280.06" r="1.85" fill="#FFDC8E" fill-opacity="0.50"/>
<circle cx="155.72" cy="283.80" r="1.85" fill="#FFDC8E" fill-opacity="0.50"/>
<circle cx="157.71" cy="281.24" r="1.85" fill="#FFDC8E" fill-opacity="0.50"/>
<circle cx="159.71" cy="280.68" r="1.85" fill="#FFDC8E" fill-opacity="0.50"/>
<circle cx="160.42" cy="283.14" r="1.85" fill="#FFDC8E" fill-opacity="0.50"/>
<circle cx="160.26" cy="283.35" r="1.85" fill="#FFDC8E" fill-opacity="0.50"/>
<circle cx="162.97" cy="282.89" r="1.85" fill="#FFDC8E" fill-opacity="0.50"/>
<circle cx="165.03" cy="280.78" r="1.85" fill="#FFDC8E" fill-opacity="0.50"/>
<g stroke="#DC3A24" stroke-width="1.20" stroke-opacity="0.85">
<line x1="93.90" y1="447.70" x2="146.70" y2="447.70"/>
<line x1="188.20" y1="447.70" x2="245.20" y2="447.70"/>
<rect x="146.70" y="446.20" width="41.50" height="3.00" rx="1.0" fill="#FFFFFF"/>
<line x1="164.30" y1="446.20" x2="164.30" y2="449.20"/>
</g>
<g stroke="#0473BD" stroke-width="1.20" stroke-opacity="0.85">
<line x1="81.50" y1="419.28" x2="134.30" y2="419.28"/>
<line x1="182.00" y1="419.28" x2="241.00" y2="419.28"/>
<rect x="134.30" y="417.78" width="47.70" height="3.00" rx="1.0" fill="#FFFFFF"/>
<line x1="159.20" y1="417.78" x2="159.20" y2="420.78"/>
</g>
<g stroke="#F5890F" stroke-width="1.20" stroke-opacity="0.85">
<line x1="125.00" y1="390.86" x2="175.80" y2="390.86"/>
<line x1="211.60" y1="390.86" x2="241.00" y2="390.86"/>
<rect x="175.80" y="389.36" width="35.80" height="3.00" rx="1.0" fill="#FFFFFF"/>
<line x1="192.90" y1="389.36" x2="192.90" y2="392.36"/>
</g>
<g stroke="#00894C" stroke-width="1.20" stroke-opacity="0.85">
<line x1="92.80" y1="362.44" x2="140.50" y2="362.44"/>
<line x1="178.90" y1="362.44" x2="234.80" y2="362.44"/>
<rect x="140.50" y="360.94" width="38.40" height="3.00" rx="1.0" fill="#FFFFFF"/>
<line x1="160.90" y1="360.94" x2="160.90" y2="363.94"/>
</g>
<g stroke="#7876B4" stroke-width="1.20" stroke-opacity="0.85">
<line x1="51.40" y1="334.02" x2="125.00" y2="334.02"/>
<line x1="176.40" y1="334.02" x2="211.60" y2="334.02"/>
<rect x="125.00" y="332.52" width="51.40" height="3.00" rx="1.0" fill="#FFFFFF"/>
<line x1="159.20" y1="332.52" x2="159.20" y2="335.52"/>
</g>
<g stroke="#5698AE" stroke-width="1.20" stroke-opacity="0.85">
<line x1="75.20" y1="305.60" x2="129.10" y2="305.60"/>
<line x1="164.40" y1="305.60" x2="211.00" y2="305.60"/>
<rect x="129.10" y="304.10" width="35.30" height="3.00" rx="1.0" fill="#FFFFFF"/>
<line x1="147.40" y1="304.10" x2="147.40" y2="307.10"/>
</g>
<g stroke="#FFDC8E" stroke-width="1.20" stroke-opacity="0.60">
<line x1="86.60" y1="277.18" x2="117.70" y2="277.18"/>
<line x1="136.40" y1="277.18" x2="165.40" y2="277.18"/>
<rect x="117.70" y="275.68" width="18.70" height="3.00" rx="1.0" fill="#FFFFFF"/>
<line x1="129.70" y1="275.68" x2="129.70" y2="278.68"/>
</g>
<path d="M129.70,277.20 L147.40,305.60 L159.20,334.00 L160.90,362.40 L192.90,390.90 L159.20,419.30 L164.30,447.70" fill="none" stroke="#767676" stroke-width="1.1"/>
<line x1="45.90" y1="464.00" x2="45.90" y2="466.20" stroke="#333" stroke-width="1"/>
<text x="46.50" y="475.60" text-anchor="middle" font-size="9.4" font-weight="bold" font-family="'Liberation Serif', serif" fill="#000">50</text>
<line x1="105.30" y1="464.00" x2="105.30" y2="466.20" stroke="#333" stroke-width="1"/>
<text x="105.90" y="475.60" text-anchor="middle" font-size="9.4" font-weight="bold" font-family="'Liberation Serif', serif" fill="#000">100</text>
<line x1="164.70" y1="464.00" x2="164.70" y2="466.20" stroke="#333" stroke-width="1"/>
<text x="165.30" y="475.60" text-anchor="middle" font-size="9.4" font-weight="bold" font-family="'Liberation Serif', serif" fill="#000">150</text>
<line x1="224.10" y1="464.00" x2="224.10" y2="466.20" stroke="#333" stroke-width="1"/>
<text x="224.70" y="475.60" text-anchor="middle" font-size="9.4" font-weight="bold" font-family="'Liberation Serif', serif" fill="#000">200</text>
<line x1="38.80" y1="447.70" x2="41.00" y2="447.70" stroke="#333" stroke-width="1"/>
<text x="33.20" y="450.90" text-anchor="end" font-size="9.4" font-weight="bold" font-family="'Liberation Serif', serif" fill="#000">2300</text>
<line x1="38.80" y1="419.28" x2="41.00" y2="419.28" stroke="#333" stroke-width="1"/>
<text x="33.20" y="422.48" text-anchor="end" font-size="9.4" font-weight="bold" font-family="'Liberation Serif', serif" fill="#000">2500</text>
<line x1="38.80" y1="390.86" x2="41.00" y2="390.86" stroke="#333" stroke-width="1"/>
<text x="33.20" y="394.06" text-anchor="end" font-size="9.4" font-weight="bold" font-family="'Liberation Serif', serif" fill="#000">2600</text>
<line x1="38.80" y1="362.44" x2="41.00" y2="362.44" stroke="#333" stroke-width="1"/>
<text x="33.20" y="365.64" text-anchor="end" font-size="9.4" font-weight="bold" font-family="'Liberation Serif', serif" fill="#000">2700</text>
<line x1="38.80" y1="334.02" x2="41.00" y2="334.02" stroke="#333" stroke-width="1"/>
<text x="33.20" y="337.22" text-anchor="end" font-size="9.4" font-weight="bold" font-family="'Liberation Serif', serif" fill="#000">2900</text>
<line x1="38.80" y1="305.60" x2="41.00" y2="305.60" stroke="#333" stroke-width="1"/>
<text x="33.20" y="308.80" text-anchor="end" font-size="9.4" font-weight="bold" font-family="'Liberation Serif', serif" fill="#000">3100</text>
<line x1="38.80" y1="277.18" x2="41.00" y2="277.18" stroke="#333" stroke-width="1"/>
<text x="33.20" y="280.38" text-anchor="end" font-size="9.4" font-weight="bold" font-family="'Liberation Serif', serif" fill="#000">3300</text>
<text x="159.10" y="493.20" text-anchor="middle" font-size="10.00" font-weight="bold" font-family="'Liberation Serif', serif" fill="#000" textLength="74.6" lengthAdjust="spacingAndGlyphs" >Needle length (cm)</text>
<text x="256.70" y="265.10" text-anchor="end" font-size="11.50" font-weight="bold" font-family="'Liberation Serif', serif" fill="#000" >P=0.000</text>
<rect x="274.20" y="251.90" width="224.60" height="212.10" fill="#ECECEC"/>
<line x1="309.98" y1="251.90" x2="309.98" y2="464.00" stroke="#FFFFFF" stroke-width="0.55"/>
<line x1="360.93" y1="251.90" x2="360.93" y2="464.00" stroke="#FFFFFF" stroke-width="0.55"/>
<line x1="411.88" y1="251.90" x2="411.88" y2="464.00" stroke="#FFFFFF" stroke-width="0.55"/>
<line x1="462.82" y1="251.90" x2="462.82" y2="464.00" stroke="#FFFFFF" stroke-width="0.55"/>
<line x1="284.50" y1="251.90" x2="284.50" y2="464.00" stroke="#FFFFFF" stroke-width="1.1"/>
<line x1="335.45" y1="251.90" x2="335.45" y2="464.00" stroke="#FFFFFF" stroke-width="1.1"/>
<line x1="386.40" y1="251.90" x2="386.40" y2="464.00" stroke="#FFFFFF" stroke-width="1.1"/>
<line x1="437.35" y1="251.90" x2="437.35" y2="464.00" stroke="#FFFFFF" stroke-width="1.1"/>
<line x1="488.30" y1="251.90" x2="488.30" y2="464.00" stroke="#FFFFFF" stroke-width="1.1"/>
<line x1="274.20" y1="447.70" x2="498.80" y2="447.70" stroke="#FFFFFF" stroke-width="1.1"/>
<line x1="274.20" y1="419.28" x2="498.80" y2="419.28" stroke="#FFFFFF" stroke-width="1.1"/>
<line x1="274.20" y1="390.86" x2="498.80" y2="390.86" stroke="#FFFFFF" stroke-width="1.1"/>
<line x1="274.20" y1="362.44" x2="498.80" y2="362.44" stroke="#FFFFFF" stroke-width="1.1"/>
<line x1="274.20" y1="334.02" x2="498.80" y2="334.02" stroke="#FFFFFF" stroke-width="1.1"/>
<line x1="274.20" y1="305.60" x2="498.80" y2="305.60" stroke="#FFFFFF" stroke-width="1.1"/>
<line x1="274.20" y1="277.18" x2="498.80" y2="277.18" stroke="#FFFFFF" stroke-width="1.1"/>
<path d="M386.80,442.30 L386.80,439.60 C388.17,439.75 391.97,440.18 395.00,440.50 C398.03,440.82 402.00,441.25 405.00,441.50 C408.00,441.75 410.00,441.95 413.00,442.00 C416.00,442.05 419.55,441.97 423.00,441.80 C426.45,441.63 431.20,441.38 433.70,441.00 C436.20,440.62 436.28,439.98 438.00,439.50 C439.72,439.02 442.00,438.38 444.00,438.10 C446.00,437.82 447.58,437.90 450.00,437.80 C452.42,437.70 455.83,437.63 458.50,437.50 C461.17,437.37 463.23,437.17 466.00,437.00 C468.77,436.83 472.43,436.75 475.10,436.50 C477.77,436.25 479.75,435.78 482.00,435.50 C484.25,435.22 487.50,434.92 488.60,434.80 L488.60,442.30 Z" fill="#DC3A24"/>
<path d="M366.20,414.00 L366.20,410.20 C367.17,410.42 370.03,411.00 372.00,411.50 C373.97,412.00 375.67,412.82 378.00,413.20 C380.33,413.57 382.33,413.64 386.00,413.75 C389.67,413.86 395.17,413.88 400.00,413.85 C404.83,413.83 411.80,413.98 415.00,413.60 C418.20,413.23 417.12,412.12 419.20,411.60 C421.28,411.08 424.75,410.57 427.50,410.50 C430.25,410.43 433.45,411.78 435.70,411.20 C437.95,410.62 439.10,408.32 441.00,407.00 C442.90,405.68 445.27,403.47 447.10,403.30 C448.93,403.13 450.27,404.68 452.00,406.00 C453.73,407.32 455.83,410.78 457.50,411.20 C459.17,411.62 460.27,409.30 462.00,408.50 C463.73,407.70 466.07,406.40 467.90,406.40 C469.73,406.40 471.10,407.63 473.00,408.50 C474.90,409.37 477.47,411.22 479.30,411.60 C481.13,411.98 482.45,411.08 484.00,410.80 C485.55,410.52 487.83,410.05 488.60,409.90 L488.60,414.00 Z" fill="#0473BD"/>
<path d="M304.70,385.40 L304.70,380.90 C305.25,381.08 306.78,381.43 308.00,382.00 C309.22,382.57 310.75,383.77 312.00,384.30 C313.25,384.83 312.50,385.03 315.50,385.20 C318.50,385.37 319.25,385.27 330.00,385.30 C340.75,385.33 361.67,385.34 380.00,385.35 C398.33,385.36 427.60,385.36 440.00,385.35 C452.40,385.34 451.40,385.86 454.40,385.30 C457.40,384.74 456.73,383.38 458.00,382.00 C459.27,380.62 460.83,378.42 462.00,377.00 C463.17,375.58 463.92,374.32 465.00,373.50 C466.08,372.68 467.33,371.85 468.50,372.10 C469.67,372.35 470.55,373.18 472.00,375.00 C473.45,376.82 475.70,382.00 477.20,383.00 C478.70,384.00 479.87,382.17 481.00,381.00 C482.13,379.83 482.73,378.17 484.00,376.00 C485.27,373.83 487.83,369.33 488.60,368.00 L488.60,385.40 Z" fill="#F5890F"/>
<path d="M406.70,357.00 L406.70,353.50 C407.58,353.75 410.45,354.53 412.00,355.00 C413.55,355.47 414.63,356.00 416.00,356.30 C417.37,356.60 418.37,356.70 420.20,356.80 C422.03,356.90 424.58,356.93 427.00,356.90 C429.42,356.87 432.87,356.92 434.70,356.60 C436.53,356.28 436.78,356.10 438.00,355.00 C439.22,353.90 440.37,351.40 442.00,350.00 C443.63,348.60 446.13,346.77 447.80,346.60 C449.47,346.43 450.38,347.72 452.00,349.00 C453.62,350.28 455.83,353.80 457.50,354.30 C459.17,354.80 460.27,352.77 462.00,352.00 C463.73,351.23 466.23,349.78 467.90,349.70 C469.57,349.62 470.45,350.73 472.00,351.50 C473.55,352.27 475.53,354.22 477.20,354.30 C478.87,354.38 480.10,352.77 482.00,352.00 C483.90,351.23 487.50,350.08 488.60,349.70 L488.60,357.00 Z" fill="#00894C"/>
<path d="M284.40,328.60 L284.40,325.90 C287.00,325.95 294.07,326.08 300.00,326.20 C305.93,326.32 313.33,326.47 320.00,326.60 C326.67,326.73 333.33,326.92 340.00,327.00 C346.67,327.08 353.33,327.10 360.00,327.10 C366.67,327.10 373.33,327.03 380.00,327.00 C386.67,326.97 393.33,326.93 400.00,326.90 C406.67,326.87 413.33,326.83 420.00,326.80 C426.67,326.77 433.33,326.72 440.00,326.70 C446.67,326.68 451.90,326.70 460.00,326.70 C468.10,326.70 483.83,326.70 488.60,326.70 L488.60,328.60 Z" fill="#7876B4"/>
<path d="M304.70,300.40 L304.70,297.30 C306.42,297.35 310.78,297.52 315.00,297.60 C319.22,297.68 324.17,297.80 330.00,297.80 C335.83,297.80 343.33,297.68 350.00,297.60 C356.67,297.52 363.33,297.32 370.00,297.30 C376.67,297.28 383.33,297.42 390.00,297.50 C396.67,297.58 403.33,297.75 410.00,297.80 C416.67,297.85 423.70,297.80 430.00,297.80 C436.30,297.80 444.83,297.80 447.80,297.80 L447.80,300.40 Z" fill="#5698AE"/>
<path d="M284.40,271.80 L284.40,268.20 C285.33,268.27 287.40,268.38 290.00,268.60 C292.60,268.82 297.00,269.27 300.00,269.50 C303.00,269.73 305.42,269.87 308.00,270.00 C310.58,270.13 311.83,270.27 315.50,270.30 C319.17,270.33 324.25,270.25 330.00,270.20 C335.75,270.15 343.33,270.02 350.00,270.00 C356.67,269.98 363.33,270.10 370.00,270.10 C376.67,270.10 383.33,270.00 390.00,270.00 C396.67,270.00 403.33,270.07 410.00,270.10 C416.67,270.13 423.33,270.18 430.00,270.20 C436.67,270.22 443.68,270.17 450.00,270.20 C456.32,270.23 464.92,270.37 467.90,270.40 L467.90,271.80 Z" fill="#FFDC8E"/>
<circle cx="378.41" cy="452.72" r="1.70" fill="#DC3A24" fill-opacity="0.65"/>
<circle cx="440.46" cy="454.52" r="1.70" fill="#DC3A24" fill-opacity="0.65"/>
<circle cx="452.01" cy="453.54" r="1.70" fill="#DC3A24" fill-opacity="0.65"/>
<circle cx="462.82" cy="453.56" r="1.70" fill="#DC3A24" fill-opacity="0.65"/>
<circle cx="476.36" cy="452.46" r="1.70" fill="#DC3A24" fill-opacity="0.65"/>
<circle cx="480.32" cy="451.70" r="1.70" fill="#DC3A24" fill-opacity="0.65"/>
<circle cx="485.61" cy="453.56" r="1.70" fill="#DC3A24" fill-opacity="0.65"/>
<circle cx="367.42" cy="423.35" r="1.70" fill="#0473BD" fill-opacity="0.65"/>
<circle cx="426.19" cy="425.50" r="1.70" fill="#0473BD" fill-opacity="0.65"/>
<circle cx="444.79" cy="425.41" r="1.70" fill="#0473BD" fill-opacity="0.65"/>
<circle cx="445.40" cy="424.48" r="1.70" fill="#0473BD" fill-opacity="0.65"/>
<circle cx="444.63" cy="425.58" r="1.70" fill="#0473BD" fill-opacity="0.65"/>
<circle cx="453.98" cy="425.49" r="1.70" fill="#0473BD" fill-opacity="0.65"/>
<circle cx="464.50" cy="424.26" r="1.70" fill="#0473BD" fill-opacity="0.65"/>
<circle cx="470.86" cy="426.13" r="1.70" fill="#0473BD" fill-opacity="0.65"/>
<circle cx="490.11" cy="423.29" r="1.70" fill="#0473BD" fill-opacity="0.65"/>
<circle cx="306.41" cy="396.82" r="1.70" fill="#F5890F" fill-opacity="0.65"/>
<circle cx="470.38" cy="397.21" r="1.70" fill="#F5890F" fill-opacity="0.65"/>
<circle cx="484.53" cy="397.02" r="1.70" fill="#F5890F" fill-opacity="0.65"/>
<circle cx="493.75" cy="394.68" r="1.70" fill="#F5890F" fill-opacity="0.65"/>
<circle cx="399.98" cy="366.86" r="1.70" fill="#00894C" fill-opacity="0.65"/>
<circle cx="440.23" cy="366.25" r="1.70" fill="#00894C" fill-opacity="0.65"/>
<circle cx="447.10" cy="368.23" r="1.70" fill="#00894C" fill-opacity="0.65"/>
<circle cx="453.69" cy="367.98" r="1.70" fill="#00894C" fill-opacity="0.65"/>
<circle cx="459.28" cy="366.34" r="1.70" fill="#00894C" fill-opacity="0.65"/>
<circle cx="464.75" cy="368.81" r="1.70" fill="#00894C" fill-opacity="0.65"/>
<circle cx="484.36" cy="369.06" r="1.70" fill="#00894C" fill-opacity="0.65"/>
<circle cx="495.29" cy="366.31" r="1.70" fill="#00894C" fill-opacity="0.65"/>
<circle cx="276.48" cy="338.83" r="1.70" fill="#7876B4" fill-opacity="0.65"/>
<circle cx="288.51" cy="340.28" r="1.70" fill="#7876B4" fill-opacity="0.65"/>
<circle cx="300.80" cy="339.14" r="1.70" fill="#7876B4" fill-opacity="0.65"/>
<circle cx="300.00" cy="339.87" r="1.70" fill="#7876B4" fill-opacity="0.65"/>
<circle cx="369.75" cy="338.47" r="1.70" fill="#7876B4" fill-opacity="0.65"/>
<circle cx="383.70" cy="339.70" r="1.70" fill="#7876B4" fill-opacity="0.65"/>
<circle cx="466.34" cy="337.68" r="1.70" fill="#7876B4" fill-opacity="0.65"/>
<circle cx="492.08" cy="339.82" r="1.70" fill="#7876B4" fill-opacity="0.65"/>
<circle cx="305.93" cy="311.74" r="1.70" fill="#5698AE" fill-opacity="0.65"/>
<circle cx="311.70" cy="311.19" r="1.70" fill="#5698AE" fill-opacity="0.65"/>
<circle cx="331.11" cy="312.01" r="1.70" fill="#5698AE" fill-opacity="0.65"/>
<circle cx="340.30" cy="311.14" r="1.70" fill="#5698AE" fill-opacity="0.65"/>
<circle cx="383.29" cy="311.68" r="1.70" fill="#5698AE" fill-opacity="0.65"/>
<circle cx="386.14" cy="310.17" r="1.70" fill="#5698AE" fill-opacity="0.65"/>
<circle cx="430.70" cy="311.79" r="1.70" fill="#5698AE" fill-opacity="0.65"/>
<circle cx="442.51" cy="309.23" r="1.70" fill="#5698AE" fill-opacity="0.65"/>
<circle cx="283.50" cy="283.52" r="1.70" fill="#FFDC8E" fill-opacity="0.40"/>
<circle cx="290.34" cy="281.21" r="1.70" fill="#FFDC8E" fill-opacity="0.40"/>
<circle cx="305.09" cy="282.85" r="1.70" fill="#FFDC8E" fill-opacity="0.40"/>
<circle cx="370.85" cy="282.17" r="1.70" fill="#FFDC8E" fill-opacity="0.40"/>
<circle cx="384.84" cy="283.04" r="1.70" fill="#FFDC8E" fill-opacity="0.40"/>
<circle cx="472.95" cy="283.36" r="1.70" fill="#FFDC8E" fill-opacity="0.40"/>
<g stroke="#DC3A24" stroke-width="1.20" stroke-opacity="0.85">
<line x1="386.80" y1="447.70" x2="447.80" y2="447.70"/>
<rect x="447.80" y="446.20" width="40.80" height="3.00" rx="1.0" fill="#FFFFFF"/>
<line x1="467.70" y1="446.20" x2="467.70" y2="449.20"/>
</g>
<g stroke="#0473BD" stroke-width="1.20" stroke-opacity="0.85">
<line x1="427.50" y1="419.28" x2="442.40" y2="419.28"/>
<line x1="468.90" y1="419.28" x2="488.60" y2="419.28"/>
<rect x="442.40" y="417.78" width="26.50" height="3.00" rx="1.0" fill="#FFFFFF"/>
<line x1="448.00" y1="417.78" x2="448.00" y2="420.78"/>
</g>
<g stroke="#F5890F" stroke-width="1.20" stroke-opacity="0.85">
<rect x="468.50" y="389.36" width="20.10" height="3.00" rx="1.0" fill="#FFFFFF"/>
<line x1="476.30" y1="389.36" x2="476.30" y2="392.36"/>
</g>
<g stroke="#00894C" stroke-width="1.20" stroke-opacity="0.85">
<line x1="473.50" y1="362.44" x2="488.60" y2="362.44"/>
<rect x="447.80" y="360.94" width="25.70" height="3.00" rx="1.0" fill="#FFFFFF"/>
<line x1="459.10" y1="360.94" x2="459.10" y2="363.94"/>
</g>
<g stroke="#7876B4" stroke-width="1.20" stroke-opacity="0.85">
<line x1="284.40" y1="334.02" x2="299.30" y2="334.02"/>
<line x1="407.30" y1="334.02" x2="488.60" y2="334.02"/>
<rect x="299.30" y="332.52" width="108.00" height="3.00" rx="1.0" fill="#FFFFFF"/>
<line x1="336.40" y1="332.52" x2="336.40" y2="335.52"/>
</g>
<g stroke="#5698AE" stroke-width="1.20" stroke-opacity="0.85">
<line x1="304.70" y1="305.60" x2="319.60" y2="305.60"/>
<line x1="396.40" y1="305.60" x2="447.80" y2="305.60"/>
<rect x="319.60" y="304.10" width="76.80" height="3.00" rx="1.0" fill="#FFFFFF"/>
<line x1="365.30" y1="304.10" x2="365.30" y2="307.10"/>
</g>
<g stroke="#FFDC8E" stroke-width="1.20" stroke-opacity="0.60">
<line x1="371.40" y1="277.18" x2="467.90" y2="277.18"/>
<rect x="284.40" y="275.68" width="87.00" height="3.00" rx="1.0" fill="#FFFFFF"/>
<line x1="314.90" y1="275.68" x2="314.90" y2="278.68"/>
</g>
<path d="M314.90,277.20 L365.30,305.60 L336.40,334.00 L459.10,362.40 L476.30,390.90 L449.00,419.30 L467.70,447.70" fill="none" stroke="#767676" stroke-width="1.1"/>
<line x1="284.50" y1="464.00" x2="284.50" y2="466.20" stroke="#333" stroke-width="1"/>
<text x="285.10" y="477.50" text-anchor="middle" font-size="9.4" font-weight="bold" font-family="'Liberation Serif', serif" fill="#000">0</text>
<line x1="335.45" y1="464.00" x2="335.45" y2="466.20" stroke="#333" stroke-width="1"/>
<text x="336.05" y="477.50" text-anchor="middle" font-size="9.4" font-weight="bold" font-family="'Liberation Serif', serif" fill="#000">25</text>
<line x1="386.40" y1="464.00" x2="386.40" y2="466.20" stroke="#333" stroke-width="1"/>
<text x="387.00" y="477.50" text-anchor="middle" font-size="9.4" font-weight="bold" font-family="'Liberation Serif', serif" fill="#000">50</text>
<line x1="437.35" y1="464.00" x2="437.35" y2="466.20" stroke="#333" stroke-width="1"/>
<text x="437.95" y="477.50" text-anchor="middle" font-size="9.4" font-weight="bold" font-family="'Liberation Serif', serif" fill="#000">75</text>
<line x1="488.30" y1="464.00" x2="488.30" y2="466.20" stroke="#333" stroke-width="1"/>
<text x="488.90" y="477.50" text-anchor="middle" font-size="9.4" font-weight="bold" font-family="'Liberation Serif', serif" fill="#000">100</text>
<text x="388.70" y="492.00" text-anchor="middle" font-size="9.60" font-weight="bold" font-family="'Liberation Serif', serif" fill="#000" textLength="153.9" lengthAdjust="spacingAndGlyphs" >Percentage of three needle clusters (%)</text>
<text x="491.80" y="265.10" text-anchor="end" font-size="11.50" font-weight="bold" font-family="'Liberation Serif', serif" fill="#000" >P=0.000</text>
<text transform="translate(11.2,101.3) rotate(-90)" text-anchor="middle" font-size="9.3" font-weight="bold" font-family="'Liberation Serif', serif" fill="#000" textLength="53.8" lengthAdjust="spacingAndGlyphs">Elevation (m)</text>
<text transform="translate(11.2,346.5) rotate(-90)" text-anchor="middle" font-size="9.3" font-weight="bold" font-family="'Liberation Serif', serif" fill="#000" textLength="55" lengthAdjust="spacingAndGlyphs">Elevation (m)</text>
<rect x="507" y="64.40" width="9.6" height="9.4" fill="#DC3A24"/>
<rect x="508.3" y="67.00" width="7.0" height="4.4" fill="#FFFFFF"/>
<rect x="508.3" y="68.55" width="7.0" height="1.3" fill="#DC3A24"/>
<text x="521.00" y="71.80" text-anchor="start" font-size="9.60" font-weight="bold" font-family="'Liberation Serif', serif" fill="#000" textLength="26.0" lengthAdjust="spacingAndGlyphs" >2300m</text>
<rect x="507" y="75.77" width="9.6" height="9.4" fill="#0473BD"/>
<rect x="508.3" y="78.37" width="7.0" height="4.4" fill="#FFFFFF"/>
<rect x="508.3" y="79.92" width="7.0" height="1.3" fill="#0473BD"/>
<text x="521.00" y="83.17" text-anchor="start" font-size="9.60" font-weight="bold" font-family="'Liberation Serif', serif" fill="#000" textLength="26.0" lengthAdjust="spacingAndGlyphs" >2500m</text>
<rect x="507" y="87.14" width="9.6" height="9.4" fill="#F5890F"/>
<rect x="508.3" y="89.74" width="7.0" height="4.4" fill="#FFFFFF"/>
<rect x="508.3" y="91.29" width="7.0" height="1.3" fill="#F5890F"/>
<text x="521.00" y="94.54" text-anchor="start" font-size="9.60" font-weight="bold" font-family="'Liberation Serif', serif" fill="#000" textLength="26.0" lengthAdjust="spacingAndGlyphs" >2600m</text>
<rect x="507" y="98.51" width="9.6" height="9.4" fill="#00894C"/>
<rect x="508.3" y="101.11" width="7.0" height="4.4" fill="#FFFFFF"/>
<rect x="508.3" y="102.66" width="7.0" height="1.3" fill="#00894C"/>
<text x="521.00" y="105.91" text-anchor="start" font-size="9.60" font-weight="bold" font-family="'Liberation Serif', serif" fill="#000" textLength="26.0" lengthAdjust="spacingAndGlyphs" >2700m</text>
<rect x="507" y="109.88" width="9.6" height="9.4" fill="#7876B4"/>
<rect x="508.3" y="112.48" width="7.0" height="4.4" fill="#FFFFFF"/>
<rect x="508.3" y="114.03" width="7.0" height="1.3" fill="#7876B4"/>
<text x="521.00" y="117.28" text-anchor="start" font-size="9.60" font-weight="bold" font-family="'Liberation Serif', serif" fill="#000" textLength="26.0" lengthAdjust="spacingAndGlyphs" >2900m</text>
<rect x="507" y="121.25" width="9.6" height="9.4" fill="#5698AE"/>
<rect x="508.3" y="123.85" width="7.0" height="4.4" fill="#FFFFFF"/>
<rect x="508.3" y="125.40" width="7.0" height="1.3" fill="#5698AE"/>
<text x="521.00" y="128.65" text-anchor="start" font-size="9.60" font-weight="bold" font-family="'Liberation Serif', serif" fill="#000" textLength="26.0" lengthAdjust="spacingAndGlyphs" >3100m</text>
<rect x="507" y="132.62" width="9.6" height="9.4" fill="#FFDC8E"/>
<rect x="508.3" y="135.22" width="7.0" height="4.4" fill="#FFFFFF"/>
<rect x="508.3" y="136.77" width="7.0" height="1.3" fill="#FFDC8E"/>
<text x="521.00" y="140.02" text-anchor="start" font-size="9.60" font-weight="bold" font-family="'Liberation Serif', serif" fill="#000" textLength="26.0" lengthAdjust="spacingAndGlyphs" >3300m</text>
</svg>
</body></html>
